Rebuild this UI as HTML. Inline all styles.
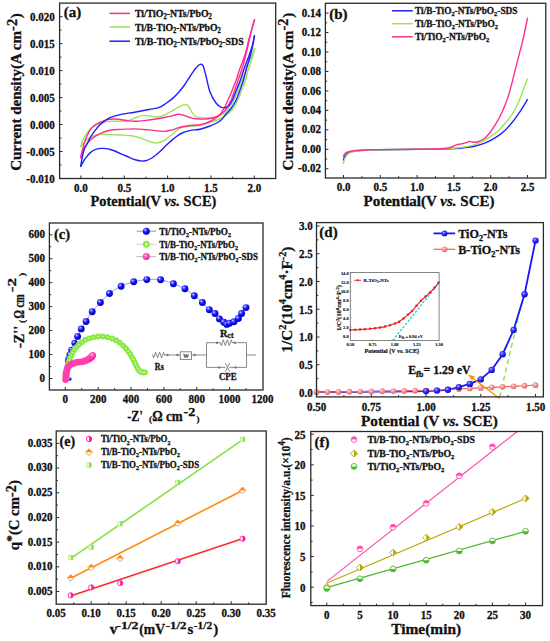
<!DOCTYPE html>
<html><head><meta charset="utf-8"><style>
html,body{margin:0;padding:0;background:#fff;}
svg{display:block;font-family:"Liberation Serif", serif;}
</style></head><body>
<svg width="550" height="641" viewBox="0 0 550 641">
<rect width="550" height="641" fill="#fff"/>
<defs>
<radialGradient id="gBlue" cx="0.35" cy="0.32" r="0.7"><stop offset="0" stop-color="#e8e8ff"/><stop offset="0.25" stop-color="#5050ff"/><stop offset="0.6" stop-color="#0a0af0"/><stop offset="1" stop-color="#0000b8"/></radialGradient>
<radialGradient id="gPink" cx="0.4" cy="0.35" r="0.7"><stop offset="0" stop-color="#ffe0f0"/><stop offset="0.3" stop-color="#ff60c0"/><stop offset="1" stop-color="#f01890"/></radialGradient>
<radialGradient id="gGreen" cx="0.5" cy="0.5" r="0.5"><stop offset="0" stop-color="#f4ffe8"/><stop offset="0.45" stop-color="#e8ffd8"/><stop offset="0.6" stop-color="#a8ec70"/><stop offset="1" stop-color="#88dd44"/></radialGradient>
<radialGradient id="gSalmon" cx="0.38" cy="0.35" r="0.7"><stop offset="0" stop-color="#fff0f0"/><stop offset="0.3" stop-color="#f8a0a0"/><stop offset="1" stop-color="#e86060"/></radialGradient>
<radialGradient id="gBlue2" cx="0.38" cy="0.35" r="0.7"><stop offset="0" stop-color="#d0d0ff"/><stop offset="0.3" stop-color="#4040ff"/><stop offset="1" stop-color="#0000c0"/></radialGradient>
</defs>
<line x1="59.6" y1="165" x2="61.4" y2="165" stroke="#2a2a2a" stroke-width="1"/>
<line x1="59.6" y1="151.51" x2="62.6" y2="151.51" stroke="#2a2a2a" stroke-width="1"/>
<line x1="59.6" y1="138.03" x2="61.4" y2="138.03" stroke="#2a2a2a" stroke-width="1"/>
<line x1="59.6" y1="124.55" x2="62.6" y2="124.55" stroke="#2a2a2a" stroke-width="1"/>
<line x1="59.6" y1="111.07" x2="61.4" y2="111.07" stroke="#2a2a2a" stroke-width="1"/>
<line x1="59.6" y1="97.58" x2="62.6" y2="97.58" stroke="#2a2a2a" stroke-width="1"/>
<line x1="59.6" y1="84.1" x2="61.4" y2="84.1" stroke="#2a2a2a" stroke-width="1"/>
<line x1="59.6" y1="70.62" x2="62.6" y2="70.62" stroke="#2a2a2a" stroke-width="1"/>
<line x1="59.6" y1="57.14" x2="61.4" y2="57.14" stroke="#2a2a2a" stroke-width="1"/>
<line x1="59.6" y1="43.66" x2="62.6" y2="43.66" stroke="#2a2a2a" stroke-width="1"/>
<line x1="59.6" y1="30.17" x2="61.4" y2="30.17" stroke="#2a2a2a" stroke-width="1"/>
<line x1="59.6" y1="16.69" x2="62.6" y2="16.69" stroke="#2a2a2a" stroke-width="1"/>
<line x1="80.9" y1="178.5" x2="80.9" y2="175.5" stroke="#2a2a2a" stroke-width="1"/>
<line x1="102.58" y1="178.5" x2="102.58" y2="176.7" stroke="#2a2a2a" stroke-width="1"/>
<line x1="124.25" y1="178.5" x2="124.25" y2="175.5" stroke="#2a2a2a" stroke-width="1"/>
<line x1="145.93" y1="178.5" x2="145.93" y2="176.7" stroke="#2a2a2a" stroke-width="1"/>
<line x1="167.6" y1="178.5" x2="167.6" y2="175.5" stroke="#2a2a2a" stroke-width="1"/>
<line x1="189.28" y1="178.5" x2="189.28" y2="176.7" stroke="#2a2a2a" stroke-width="1"/>
<line x1="210.95" y1="178.5" x2="210.95" y2="175.5" stroke="#2a2a2a" stroke-width="1"/>
<line x1="232.62" y1="178.5" x2="232.62" y2="176.7" stroke="#2a2a2a" stroke-width="1"/>
<line x1="254.3" y1="178.5" x2="254.3" y2="175.5" stroke="#2a2a2a" stroke-width="1"/>
<text x="54.7" y="182.78" font-size="11.88" text-anchor="end" font-weight="bold" fill="#111" stroke="#111" stroke-width="0.3" textLength="28.41" lengthAdjust="spacingAndGlyphs">-0.010</text>
<text x="54.7" y="155.81" font-size="11.88" text-anchor="end" font-weight="bold" fill="#111" stroke="#111" stroke-width="0.3" textLength="28.41" lengthAdjust="spacingAndGlyphs">-0.005</text>
<text x="54.7" y="128.85" font-size="11.88" text-anchor="end" font-weight="bold" fill="#111" stroke="#111" stroke-width="0.3" textLength="24.75" lengthAdjust="spacingAndGlyphs">0.000</text>
<text x="54.7" y="101.88" font-size="11.88" text-anchor="end" font-weight="bold" fill="#111" stroke="#111" stroke-width="0.3" textLength="24.75" lengthAdjust="spacingAndGlyphs">0.005</text>
<text x="54.7" y="74.92" font-size="11.88" text-anchor="end" font-weight="bold" fill="#111" stroke="#111" stroke-width="0.3" textLength="24.75" lengthAdjust="spacingAndGlyphs">0.010</text>
<text x="54.7" y="47.95" font-size="11.88" text-anchor="end" font-weight="bold" fill="#111" stroke="#111" stroke-width="0.3" textLength="24.75" lengthAdjust="spacingAndGlyphs">0.015</text>
<text x="54.7" y="20.99" font-size="11.88" text-anchor="end" font-weight="bold" fill="#111" stroke="#111" stroke-width="0.3" textLength="24.75" lengthAdjust="spacingAndGlyphs">0.020</text>
<text x="80.9" y="191.8" font-size="11.88" text-anchor="middle" font-weight="bold" fill="#111" stroke="#111" stroke-width="0.3" textLength="13.75" lengthAdjust="spacingAndGlyphs">0.0</text>
<text x="124.25" y="191.8" font-size="11.88" text-anchor="middle" font-weight="bold" fill="#111" stroke="#111" stroke-width="0.3" textLength="13.75" lengthAdjust="spacingAndGlyphs">0.5</text>
<text x="167.6" y="191.8" font-size="11.88" text-anchor="middle" font-weight="bold" fill="#111" stroke="#111" stroke-width="0.3" textLength="13.75" lengthAdjust="spacingAndGlyphs">1.0</text>
<text x="210.95" y="191.8" font-size="11.88" text-anchor="middle" font-weight="bold" fill="#111" stroke="#111" stroke-width="0.3" textLength="13.75" lengthAdjust="spacingAndGlyphs">1.5</text>
<text x="254.3" y="191.8" font-size="11.88" text-anchor="middle" font-weight="bold" fill="#111" stroke="#111" stroke-width="0.3" textLength="13.75" lengthAdjust="spacingAndGlyphs">2.0</text>
<path d="M80.7,146.5 C81.12,145.32 82.1,141.77 83.2,139.4 C84.3,137.03 85.78,134.32 87.3,132.3 C88.82,130.28 90.1,128.82 92.3,127.3 C94.5,125.78 97.55,124.18 100.5,123.2 C103.45,122.22 106.75,121.73 110,121.4 C113.25,121.07 116.88,121.35 120,121.2 C123.12,121.05 125.78,121.23 128.7,120.5 C131.62,119.77 134.83,117.65 137.5,116.8 C140.17,115.95 142.28,115.45 144.7,115.4 C147.12,115.35 149.33,116.32 152,116.5 C154.67,116.68 157.78,117.17 160.7,116.5 C163.62,115.83 166.58,114.02 169.5,112.5 C172.42,110.98 175.78,108.67 178.2,107.4 C180.62,106.13 182.43,105.27 184,104.9 C185.57,104.53 186.52,104.43 187.6,105.2 C188.68,105.97 189.52,107.93 190.5,109.5 C191.48,111.07 192.4,113.33 193.5,114.6 C194.6,115.87 195.02,116.53 197.1,117.1 C199.18,117.67 203.18,117.88 206,118 C208.82,118.12 211.67,118.13 214,117.8 C216.33,117.47 218.17,116.88 220,116 C221.83,115.12 223.42,114 225,112.5 C226.58,111 228,109.08 229.5,107 C231,104.92 232.58,102.83 234,100 C235.42,97.17 236.67,93.33 238,90 C239.33,86.67 240.7,83.17 242,80 C243.3,76.83 244.72,73.83 245.8,71 C246.88,68.17 247.55,65.42 248.5,63 C249.45,60.58 250.47,58.93 251.5,56.5 C252.53,54.07 254.17,49.75 254.7,48.4" stroke="#9be35a" stroke-width="1.4" fill="none" stroke-linejoin="round" stroke-linecap="round"/>
<path d="M254.7,48.4 C254.33,49.83 253.37,54.07 252.5,57 C251.63,59.93 250.33,63.5 249.5,66 C248.67,68.5 248.15,69.67 247.5,72 C246.85,74.33 246.55,77 245.6,80 C244.65,83 243.07,86.67 241.8,90 C240.53,93.33 239.47,96.92 238,100 C236.53,103.08 234.67,106.2 233,108.5 C231.33,110.8 230.17,112.05 228,113.8 C225.83,115.55 223,117.57 220,119 C217,120.43 213.33,121.32 210,122.4 C206.67,123.48 203.37,124.85 200,125.5 C196.63,126.15 192.97,125.93 189.8,126.3 C186.63,126.67 183.9,126.37 181,127.7 C178.1,129.03 175.07,132.23 172.4,134.3 C169.73,136.37 167.43,138.7 165,140.1 C162.57,141.5 159.97,142.33 157.8,142.7 C155.63,143.07 154.67,142.98 152,142.3 C149.33,141.62 145.2,139.7 141.8,138.6 C138.4,137.5 135.23,136.3 131.6,135.7 C127.97,135.1 124.68,135.22 120,135 C115.32,134.78 107.43,134.42 103.5,134.4 C99.57,134.38 98.6,134.4 96.4,134.9 C94.2,135.4 92.17,136.3 90.3,137.4 C88.43,138.5 86.8,139.98 85.2,141.5 C83.6,143.02 81.45,145.67 80.7,146.5" stroke="#9be35a" stroke-width="1.4" fill="none" stroke-linejoin="round" stroke-linecap="round"/>
<path d="M80.7,157.7 C80.95,156.52 81.45,153.47 82.2,150.6 C82.95,147.73 84.02,143.72 85.2,140.5 C86.38,137.28 87.93,133.68 89.3,131.3 C90.67,128.92 91.53,127.72 93.4,126.2 C95.27,124.68 98.07,123.32 100.5,122.2 C102.93,121.08 105.42,120.03 108,119.5 C110.58,118.97 112.55,118.77 116,119 C119.45,119.23 125.12,120.53 128.7,120.9 C132.28,121.27 134.12,121.35 137.5,121.2 C140.88,121.05 145.13,120.48 149,120 C152.87,119.52 157.05,118.95 160.7,118.3 C164.35,117.65 167.98,116.77 170.9,116.1 C173.82,115.43 176.02,114.42 178.2,114.3 C180.38,114.18 182.07,114.87 184,115.4 C185.93,115.93 187.87,116.95 189.8,117.5 C191.73,118.05 192.9,118.45 195.6,118.7 C198.3,118.95 202.93,119.2 206,119 C209.07,118.8 211.67,118.25 214,117.5 C216.33,116.75 218,115.83 220,114.5 C222,113.17 224.15,111.92 226,109.5 C227.85,107.08 229.63,103.25 231.1,100 C232.57,96.75 233.62,93.33 234.8,90 C235.98,86.67 236.95,83.67 238.2,80 C239.45,76.33 241.03,72.17 242.3,68 C243.57,63.83 244.52,60.17 245.8,55 C247.08,49.83 248.55,42.88 250,37 C251.45,31.12 253.75,22.58 254.5,19.7" stroke="#ff2d8f" stroke-width="1.4" fill="none" stroke-linejoin="round" stroke-linecap="round"/>
<path d="M254.5,19.7 C253.67,22.58 251.08,31.12 249.5,37 C247.92,42.88 246.57,49.83 245,55 C243.43,60.17 241.57,63.83 240.1,68 C238.63,72.17 237.5,76.33 236.2,80 C234.9,83.67 233.58,86.83 232.3,90 C231.02,93.17 229.88,95.92 228.5,99 C227.12,102.08 225.75,105.58 224,108.5 C222.25,111.42 220.33,114.33 218,116.5 C215.67,118.67 213,120.12 210,121.5 C207,122.88 203.37,124.13 200,124.8 C196.63,125.47 192.97,125.13 189.8,125.5 C186.63,125.87 183.9,126.27 181,127 C178.1,127.73 175.3,129.17 172.4,129.9 C169.5,130.63 167.5,131.4 163.6,131.4 C159.7,131.4 153.85,130.32 149,129.9 C144.15,129.48 139.33,128.98 134.5,128.9 C129.67,128.82 124.08,129.17 120,129.4 C115.92,129.63 113.25,129.63 110,130.3 C106.75,130.97 103.45,132.05 100.5,133.4 C97.55,134.75 94.5,136.72 92.3,138.4 C90.1,140.08 88.82,141.63 87.3,143.5 C85.78,145.37 84.3,147.23 83.2,149.6 C82.1,151.97 81.12,156.35 80.7,157.7" stroke="#ff2d8f" stroke-width="1.4" fill="none" stroke-linejoin="round" stroke-linecap="round"/>
<path d="M80.7,166.3 C80.95,164.87 81.62,160.48 82.2,157.7 C82.78,154.92 83.35,151.97 84.2,149.6 C85.05,147.23 86.28,145.53 87.3,143.5 C88.32,141.47 89.12,139.43 90.3,137.4 C91.48,135.37 92.88,133.33 94.4,131.3 C95.92,129.27 97.72,126.88 99.4,125.2 C101.08,123.52 102.73,122.47 104.5,121.2 C106.27,119.93 107.42,118.7 110,117.6 C112.58,116.5 115.92,115.5 120,114.6 C124.08,113.7 129.65,113.05 134.5,112.2 C139.35,111.35 144.97,110.3 149.1,109.5 C153.23,108.7 156.4,108.48 159.3,107.4 C162.2,106.32 164.32,104.47 166.5,103 C168.68,101.53 170.4,100.35 172.4,98.6 C174.4,96.85 176.48,94.77 178.5,92.5 C180.52,90.23 182.58,87.67 184.5,85 C186.42,82.33 188.17,79.25 190,76.5 C191.83,73.75 193.83,70.52 195.5,68.5 C197.17,66.48 198.75,64.88 200,64.4 C201.25,63.92 202,63.67 203,65.6 C204,67.53 204.83,71.6 206,76 C207.17,80.4 208.33,87.5 210,92 C211.67,96.5 214.17,100.5 216,103 C217.83,105.5 219.5,106.2 221,107 C222.5,107.8 223.67,108.05 225,107.8 C226.33,107.55 227.75,106.8 229,105.5 C230.25,104.2 231.25,102.58 232.5,100 C233.75,97.42 235.18,93.33 236.5,90 C237.82,86.67 239.08,83.67 240.4,80 C241.72,76.33 242.92,72.17 244.4,68 C245.88,63.83 247.95,58.83 249.3,55 C250.65,51.17 251.63,48.23 252.5,45 C253.37,41.77 254.17,37.17 254.5,35.6" stroke="#1f1fff" stroke-width="1.4" fill="none" stroke-linejoin="round" stroke-linecap="round"/>
<path d="M254.5,35.6 C254.22,37.17 253.45,41.77 252.8,45 C252.15,48.23 251.63,51.17 250.6,55 C249.57,58.83 247.78,63.83 246.6,68 C245.42,72.17 244.6,76.33 243.5,80 C242.4,83.67 241.22,86.67 240,90 C238.78,93.33 237.7,96.92 236.2,100 C234.7,103.08 232.7,106.17 231,108.5 C229.3,110.83 227.83,111.92 226,114 C224.17,116.08 222.67,119 220,121 C217.33,123 213.33,124.63 210,126 C206.67,127.37 203.37,128.43 200,129.2 C196.63,129.97 192.97,129.88 189.8,130.6 C186.63,131.32 183.67,132.17 181,133.5 C178.33,134.83 176.22,136.68 173.8,138.6 C171.38,140.52 168.8,142.85 166.5,145 C164.2,147.15 162.42,149.33 160,151.5 C157.58,153.67 154.67,156.42 152,158 C149.33,159.58 146.67,160.67 144,161 C141.33,161.33 139,160.83 136,160 C133,159.17 130,157.67 126,156 C122,154.33 115.75,151.27 112,150 C108.25,148.73 106.1,148.55 103.5,148.4 C100.9,148.25 98.6,148.4 96.4,149.1 C94.2,149.8 92.17,151 90.3,152.6 C88.43,154.2 86.8,156.42 85.2,158.7 C83.6,160.98 81.45,165.03 80.7,166.3" stroke="#1f1fff" stroke-width="1.4" fill="none" stroke-linejoin="round" stroke-linecap="round"/>
<rect x="59.6" y="3.1" width="216.1" height="175.4" fill="none" stroke="#2a2a2a" stroke-width="1.3"/>
<line x1="109.5" y1="13.4" x2="130" y2="13.4" stroke="#ff2d8f" stroke-width="1.5"/>
<text x="134.9" y="17" font-size="10.6" text-anchor="start" font-weight="bold" fill="#111" stroke="#111" stroke-width="0.3" textLength="77" lengthAdjust="spacingAndGlyphs">Ti/TiO<tspan font-size="7.2" dy="2.3">2</tspan><tspan dy="-2.3">-NTs/PbO</tspan><tspan font-size="7.2" dy="2.3">2</tspan><tspan dy="-2.3"></tspan></text>
<line x1="109.5" y1="27" x2="130" y2="27" stroke="#9be35a" stroke-width="1.5"/>
<text x="134.9" y="30.6" font-size="10.6" text-anchor="start" font-weight="bold" fill="#111" stroke="#111" stroke-width="0.3" textLength="86" lengthAdjust="spacingAndGlyphs">Ti/B-TiO<tspan font-size="7.2" dy="2.3">2</tspan><tspan dy="-2.3">-NTs/PbO</tspan><tspan font-size="7.2" dy="2.3">2</tspan><tspan dy="-2.3"></tspan></text>
<line x1="109.5" y1="41.2" x2="130" y2="41.2" stroke="#1f1fff" stroke-width="1.5"/>
<text x="134.9" y="44.8" font-size="10.6" text-anchor="start" font-weight="bold" fill="#111" stroke="#111" stroke-width="0.3" textLength="108.8" lengthAdjust="spacingAndGlyphs">Ti/B-TiO<tspan font-size="7.2" dy="2.3">2</tspan><tspan dy="-2.3">-NTs/PbO</tspan><tspan font-size="7.2" dy="2.3">2</tspan><tspan dy="-2.3">-SDS</tspan></text>
<text x="63.8" y="16.8" font-size="15" text-anchor="start" font-weight="bold" fill="#111" stroke="#111" stroke-width="0.3">(a)</text>
<text x="90.4" y="205.8" font-size="14" text-anchor="start" font-weight="bold" fill="#111" stroke="#111" stroke-width="0.3" textLength="126" lengthAdjust="spacingAndGlyphs">Potential(V <tspan font-style="italic">vs.</tspan> SCE)</text>
<g transform="translate(20.9 170.8) rotate(-90)">
<text x="0" y="0" font-size="15" font-weight="bold" fill="#111" stroke="#111" stroke-width="0.3">Current density(A cm</text>
<text x="139.9" y="-4.4" font-size="14.5" font-weight="bold" fill="#111" stroke="#111" stroke-width="0.3">-2</text>
<text x="152.6" y="0" font-size="15" font-weight="bold" fill="#111" stroke="#111" stroke-width="0.3">)</text>
</g>
<line x1="325.4" y1="168.76" x2="328.4" y2="168.76" stroke="#2a2a2a" stroke-width="1"/>
<line x1="325.4" y1="159.03" x2="327.2" y2="159.03" stroke="#2a2a2a" stroke-width="1"/>
<line x1="325.4" y1="149.3" x2="328.4" y2="149.3" stroke="#2a2a2a" stroke-width="1"/>
<line x1="325.4" y1="139.57" x2="327.2" y2="139.57" stroke="#2a2a2a" stroke-width="1"/>
<line x1="325.4" y1="129.84" x2="328.4" y2="129.84" stroke="#2a2a2a" stroke-width="1"/>
<line x1="325.4" y1="120.11" x2="327.2" y2="120.11" stroke="#2a2a2a" stroke-width="1"/>
<line x1="325.4" y1="110.38" x2="328.4" y2="110.38" stroke="#2a2a2a" stroke-width="1"/>
<line x1="325.4" y1="100.65" x2="327.2" y2="100.65" stroke="#2a2a2a" stroke-width="1"/>
<line x1="325.4" y1="90.92" x2="328.4" y2="90.92" stroke="#2a2a2a" stroke-width="1"/>
<line x1="325.4" y1="81.19" x2="327.2" y2="81.19" stroke="#2a2a2a" stroke-width="1"/>
<line x1="325.4" y1="71.46" x2="328.4" y2="71.46" stroke="#2a2a2a" stroke-width="1"/>
<line x1="325.4" y1="61.73" x2="327.2" y2="61.73" stroke="#2a2a2a" stroke-width="1"/>
<line x1="325.4" y1="52" x2="328.4" y2="52" stroke="#2a2a2a" stroke-width="1"/>
<line x1="325.4" y1="42.27" x2="327.2" y2="42.27" stroke="#2a2a2a" stroke-width="1"/>
<line x1="325.4" y1="32.54" x2="328.4" y2="32.54" stroke="#2a2a2a" stroke-width="1"/>
<line x1="325.4" y1="22.81" x2="327.2" y2="22.81" stroke="#2a2a2a" stroke-width="1"/>
<line x1="325.4" y1="13.08" x2="328.4" y2="13.08" stroke="#2a2a2a" stroke-width="1"/>
<line x1="343.5" y1="178" x2="343.5" y2="175" stroke="#2a2a2a" stroke-width="1"/>
<line x1="361.9" y1="178" x2="361.9" y2="176.2" stroke="#2a2a2a" stroke-width="1"/>
<line x1="380.3" y1="178" x2="380.3" y2="175" stroke="#2a2a2a" stroke-width="1"/>
<line x1="398.7" y1="178" x2="398.7" y2="176.2" stroke="#2a2a2a" stroke-width="1"/>
<line x1="417.1" y1="178" x2="417.1" y2="175" stroke="#2a2a2a" stroke-width="1"/>
<line x1="435.5" y1="178" x2="435.5" y2="176.2" stroke="#2a2a2a" stroke-width="1"/>
<line x1="453.9" y1="178" x2="453.9" y2="175" stroke="#2a2a2a" stroke-width="1"/>
<line x1="472.3" y1="178" x2="472.3" y2="176.2" stroke="#2a2a2a" stroke-width="1"/>
<line x1="490.7" y1="178" x2="490.7" y2="175" stroke="#2a2a2a" stroke-width="1"/>
<line x1="509.1" y1="178" x2="509.1" y2="176.2" stroke="#2a2a2a" stroke-width="1"/>
<line x1="527.5" y1="178" x2="527.5" y2="175" stroke="#2a2a2a" stroke-width="1"/>
<text x="320.9" y="172.36" font-size="11.88" text-anchor="end" font-weight="bold" fill="#111" stroke="#111" stroke-width="0.3" textLength="22.91" lengthAdjust="spacingAndGlyphs">-0.02</text>
<text x="320.9" y="152.9" font-size="11.88" text-anchor="end" font-weight="bold" fill="#111" stroke="#111" stroke-width="0.3" textLength="19.25" lengthAdjust="spacingAndGlyphs">0.00</text>
<text x="320.9" y="133.44" font-size="11.88" text-anchor="end" font-weight="bold" fill="#111" stroke="#111" stroke-width="0.3" textLength="19.25" lengthAdjust="spacingAndGlyphs">0.02</text>
<text x="320.9" y="113.98" font-size="11.88" text-anchor="end" font-weight="bold" fill="#111" stroke="#111" stroke-width="0.3" textLength="19.25" lengthAdjust="spacingAndGlyphs">0.04</text>
<text x="320.9" y="94.52" font-size="11.88" text-anchor="end" font-weight="bold" fill="#111" stroke="#111" stroke-width="0.3" textLength="19.25" lengthAdjust="spacingAndGlyphs">0.06</text>
<text x="320.9" y="75.06" font-size="11.88" text-anchor="end" font-weight="bold" fill="#111" stroke="#111" stroke-width="0.3" textLength="19.25" lengthAdjust="spacingAndGlyphs">0.08</text>
<text x="320.9" y="55.6" font-size="11.88" text-anchor="end" font-weight="bold" fill="#111" stroke="#111" stroke-width="0.3" textLength="19.25" lengthAdjust="spacingAndGlyphs">0.10</text>
<text x="320.9" y="36.14" font-size="11.88" text-anchor="end" font-weight="bold" fill="#111" stroke="#111" stroke-width="0.3" textLength="19.25" lengthAdjust="spacingAndGlyphs">0.12</text>
<text x="320.9" y="16.68" font-size="11.88" text-anchor="end" font-weight="bold" fill="#111" stroke="#111" stroke-width="0.3" textLength="19.25" lengthAdjust="spacingAndGlyphs">0.14</text>
<text x="343.5" y="191.3" font-size="11.88" text-anchor="middle" font-weight="bold" fill="#111" stroke="#111" stroke-width="0.3" textLength="13.75" lengthAdjust="spacingAndGlyphs">0.0</text>
<text x="380.3" y="191.3" font-size="11.88" text-anchor="middle" font-weight="bold" fill="#111" stroke="#111" stroke-width="0.3" textLength="13.75" lengthAdjust="spacingAndGlyphs">0.5</text>
<text x="417.1" y="191.3" font-size="11.88" text-anchor="middle" font-weight="bold" fill="#111" stroke="#111" stroke-width="0.3" textLength="13.75" lengthAdjust="spacingAndGlyphs">1.0</text>
<text x="453.9" y="191.3" font-size="11.88" text-anchor="middle" font-weight="bold" fill="#111" stroke="#111" stroke-width="0.3" textLength="13.75" lengthAdjust="spacingAndGlyphs">1.5</text>
<text x="490.7" y="191.3" font-size="11.88" text-anchor="middle" font-weight="bold" fill="#111" stroke="#111" stroke-width="0.3" textLength="13.75" lengthAdjust="spacingAndGlyphs">2.0</text>
<text x="527.5" y="191.3" font-size="11.88" text-anchor="middle" font-weight="bold" fill="#111" stroke="#111" stroke-width="0.3" textLength="13.75" lengthAdjust="spacingAndGlyphs">2.5</text>
<path d="M343.4,160 C343.67,159.33 344.23,157.17 345,156 C345.77,154.83 346.83,153.75 348,153 C349.17,152.25 350,151.92 352,151.5 C354,151.08 355.33,150.8 360,150.5 C364.67,150.2 370,149.9 380,149.7 C390,149.5 407.27,149.5 420,149.3 C432.73,149.1 448.9,148.78 456.4,148.5 C463.9,148.22 462.73,147.85 465,147.6 C467.27,147.35 468.47,147.23 470,147 C471.53,146.77 472.33,146.65 474.2,146.2 C476.07,145.75 478.62,145.2 481.2,144.3 C483.78,143.4 486.88,142.22 489.7,140.8 C492.52,139.38 495.53,137.57 498.1,135.8 C500.67,134.03 502.77,132.42 505.1,130.2 C507.43,127.98 509.98,125.07 512.1,122.5 C514.22,119.93 515.92,117.5 517.8,114.8 C519.68,112.1 521.82,108.83 523.4,106.3 C524.98,103.77 526.65,100.72 527.3,99.6" stroke="#1f1fff" stroke-width="1.4" fill="none" stroke-linejoin="round" stroke-linecap="round"/>
<path d="M343.4,163.3 C343.67,162.42 344.23,159.55 345,158 C345.77,156.45 346.83,155 348,154 C349.17,153 350,152.57 352,152 C354,151.43 355.33,150.98 360,150.6 C364.67,150.22 370,149.92 380,149.7 C390,149.48 408.63,149.5 420,149.3 C431.37,149.1 441.87,148.75 448.2,148.5 C454.53,148.25 455.03,148.08 458,147.8 C460.97,147.52 463.3,147.3 466,146.8 C468.7,146.3 471.67,145.6 474.2,144.8 C476.73,144 478.62,143.27 481.2,142 C483.78,140.73 486.88,139.05 489.7,137.2 C492.52,135.35 495.3,133.47 498.1,130.9 C500.9,128.33 503.93,124.95 506.5,121.8 C509.07,118.65 511.38,115.52 513.5,112 C515.62,108.48 517.55,104.45 519.2,100.7 C520.85,96.95 522.05,93.12 523.4,89.5 C524.75,85.88 526.65,80.75 527.3,79" stroke="#9be35a" stroke-width="1.4" fill="none" stroke-linejoin="round" stroke-linecap="round"/>
<path d="M343.4,156.2 C343.67,155.75 344.23,154.2 345,153.5 C345.77,152.8 346.83,152.42 348,152 C349.17,151.58 350,151.28 352,151 C354,150.72 355.33,150.53 360,150.3 C364.67,150.07 370,149.78 380,149.6 C390,149.42 410,149.33 420,149.2 C430,149.07 435.3,149 440,148.8 C444.7,148.6 446.02,148.42 448.2,148 C450.38,147.58 451.73,146.82 453.1,146.3 C454.47,145.78 455.03,145.3 456.4,144.9 C457.77,144.5 459.67,144.27 461.3,143.9 C462.93,143.53 464.83,143.12 466.2,142.7 C467.57,142.28 468.55,141.53 469.5,141.4 C470.45,141.27 470.95,141.77 471.9,141.9 C472.85,142.03 474.12,142.27 475.2,142.2 C476.28,142.13 476.93,142.08 478.4,141.5 C479.87,140.92 482.12,140.12 484,138.7 C485.88,137.28 487.82,135.35 489.7,133 C491.58,130.65 493.43,127.63 495.3,124.6 C497.17,121.57 499.27,118.08 500.9,114.8 C502.53,111.52 503.82,108.18 505.1,104.9 C506.38,101.62 507.43,98.83 508.6,95.1 C509.77,91.37 511.05,86.48 512.1,82.5 C513.15,78.52 513.75,75.75 514.9,71.2 C516.05,66.65 517.58,60.77 519,55.2 C520.42,49.63 521.98,43.98 523.4,37.8 C524.82,31.62 526.82,21.38 527.5,18.1" stroke="#ff2d8f" stroke-width="1.4" fill="none" stroke-linejoin="round" stroke-linecap="round"/>
<rect x="325.4" y="3.3" width="220.4" height="174.7" fill="none" stroke="#2a2a2a" stroke-width="1.3"/>
<line x1="391.9" y1="10.8" x2="412.7" y2="10.8" stroke="#1f1fff" stroke-width="1.5"/>
<text x="415" y="14" font-size="9.8" text-anchor="start" font-weight="bold" fill="#111" stroke="#111" stroke-width="0.29" textLength="102.5" lengthAdjust="spacingAndGlyphs">Ti/B-TiO<tspan font-size="6.7" dy="2.2">2</tspan><tspan dy="-2.2">-NTs/PbO</tspan><tspan font-size="6.7" dy="2.2">2</tspan><tspan dy="-2.2">-SDS</tspan></text>
<line x1="391.9" y1="23.7" x2="412.7" y2="23.7" stroke="#9be35a" stroke-width="1.5"/>
<text x="415" y="26.9" font-size="9.8" text-anchor="start" font-weight="bold" fill="#111" stroke="#111" stroke-width="0.29" textLength="82.9" lengthAdjust="spacingAndGlyphs">Ti/B-TiO<tspan font-size="6.7" dy="2.2">2</tspan><tspan dy="-2.2">-NTs/PbO</tspan><tspan font-size="6.7" dy="2.2">2</tspan><tspan dy="-2.2"></tspan></text>
<line x1="391.9" y1="36.8" x2="412.7" y2="36.8" stroke="#ff2d8f" stroke-width="1.5"/>
<text x="415" y="40" font-size="9.8" text-anchor="start" font-weight="bold" fill="#111" stroke="#111" stroke-width="0.29" textLength="74.3" lengthAdjust="spacingAndGlyphs">Ti/TiO<tspan font-size="6.7" dy="2.2">2</tspan><tspan dy="-2.2">-NTs/PbO</tspan><tspan font-size="6.7" dy="2.2">2</tspan><tspan dy="-2.2"></tspan></text>
<text x="329.2" y="18.8" font-size="15" text-anchor="start" font-weight="bold" fill="#111" stroke="#111" stroke-width="0.3">(b)</text>
<text x="363.5" y="205.6" font-size="14" text-anchor="start" font-weight="bold" fill="#111" stroke="#111" stroke-width="0.3" textLength="131" lengthAdjust="spacingAndGlyphs">Potential(V <tspan font-style="italic">vs.</tspan> SCE)</text>
<g transform="translate(292.6 170.4) rotate(-90)">
<text x="0" y="0" font-size="15" font-weight="bold" fill="#111" stroke="#111" stroke-width="0.3">Current density(A cm</text>
<text x="139.9" y="-4.4" font-size="14.5" font-weight="bold" fill="#111" stroke="#111" stroke-width="0.3">-2</text>
<text x="152.6" y="0" font-size="15" font-weight="bold" fill="#111" stroke="#111" stroke-width="0.3">)</text>
</g>
<line x1="49.4" y1="378.5" x2="52.4" y2="378.5" stroke="#2a2a2a" stroke-width="1"/>
<line x1="49.4" y1="366.52" x2="51.2" y2="366.52" stroke="#2a2a2a" stroke-width="1"/>
<line x1="49.4" y1="354.55" x2="52.4" y2="354.55" stroke="#2a2a2a" stroke-width="1"/>
<line x1="49.4" y1="342.57" x2="51.2" y2="342.57" stroke="#2a2a2a" stroke-width="1"/>
<line x1="49.4" y1="330.6" x2="52.4" y2="330.6" stroke="#2a2a2a" stroke-width="1"/>
<line x1="49.4" y1="318.62" x2="51.2" y2="318.62" stroke="#2a2a2a" stroke-width="1"/>
<line x1="49.4" y1="306.65" x2="52.4" y2="306.65" stroke="#2a2a2a" stroke-width="1"/>
<line x1="49.4" y1="294.68" x2="51.2" y2="294.68" stroke="#2a2a2a" stroke-width="1"/>
<line x1="49.4" y1="282.7" x2="52.4" y2="282.7" stroke="#2a2a2a" stroke-width="1"/>
<line x1="49.4" y1="270.73" x2="51.2" y2="270.73" stroke="#2a2a2a" stroke-width="1"/>
<line x1="49.4" y1="258.75" x2="52.4" y2="258.75" stroke="#2a2a2a" stroke-width="1"/>
<line x1="49.4" y1="246.78" x2="51.2" y2="246.78" stroke="#2a2a2a" stroke-width="1"/>
<line x1="49.4" y1="234.8" x2="52.4" y2="234.8" stroke="#2a2a2a" stroke-width="1"/>
<line x1="65.3" y1="390" x2="65.3" y2="387" stroke="#2a2a2a" stroke-width="1"/>
<line x1="81.73" y1="390" x2="81.73" y2="388.2" stroke="#2a2a2a" stroke-width="1"/>
<line x1="98.16" y1="390" x2="98.16" y2="387" stroke="#2a2a2a" stroke-width="1"/>
<line x1="114.59" y1="390" x2="114.59" y2="388.2" stroke="#2a2a2a" stroke-width="1"/>
<line x1="131.02" y1="390" x2="131.02" y2="387" stroke="#2a2a2a" stroke-width="1"/>
<line x1="147.45" y1="390" x2="147.45" y2="388.2" stroke="#2a2a2a" stroke-width="1"/>
<line x1="163.88" y1="390" x2="163.88" y2="387" stroke="#2a2a2a" stroke-width="1"/>
<line x1="180.31" y1="390" x2="180.31" y2="388.2" stroke="#2a2a2a" stroke-width="1"/>
<line x1="196.74" y1="390" x2="196.74" y2="387" stroke="#2a2a2a" stroke-width="1"/>
<line x1="213.17" y1="390" x2="213.17" y2="388.2" stroke="#2a2a2a" stroke-width="1"/>
<line x1="229.6" y1="390" x2="229.6" y2="387" stroke="#2a2a2a" stroke-width="1"/>
<line x1="246.03" y1="390" x2="246.03" y2="388.2" stroke="#2a2a2a" stroke-width="1"/>
<text x="45.1" y="382.1" font-size="11.88" text-anchor="end" font-weight="bold" fill="#111" stroke="#111" stroke-width="0.3" textLength="5.5" lengthAdjust="spacingAndGlyphs">0</text>
<text x="45.1" y="358.15" font-size="11.88" text-anchor="end" font-weight="bold" fill="#111" stroke="#111" stroke-width="0.3" textLength="16.5" lengthAdjust="spacingAndGlyphs">100</text>
<text x="45.1" y="334.2" font-size="11.88" text-anchor="end" font-weight="bold" fill="#111" stroke="#111" stroke-width="0.3" textLength="16.5" lengthAdjust="spacingAndGlyphs">200</text>
<text x="45.1" y="310.25" font-size="11.88" text-anchor="end" font-weight="bold" fill="#111" stroke="#111" stroke-width="0.3" textLength="16.5" lengthAdjust="spacingAndGlyphs">300</text>
<text x="45.1" y="286.3" font-size="11.88" text-anchor="end" font-weight="bold" fill="#111" stroke="#111" stroke-width="0.3" textLength="16.5" lengthAdjust="spacingAndGlyphs">400</text>
<text x="45.1" y="262.35" font-size="11.88" text-anchor="end" font-weight="bold" fill="#111" stroke="#111" stroke-width="0.3" textLength="16.5" lengthAdjust="spacingAndGlyphs">500</text>
<text x="45.1" y="238.4" font-size="11.88" text-anchor="end" font-weight="bold" fill="#111" stroke="#111" stroke-width="0.3" textLength="16.5" lengthAdjust="spacingAndGlyphs">600</text>
<text x="65.3" y="402.6" font-size="11.88" text-anchor="middle" font-weight="bold" fill="#111" stroke="#111" stroke-width="0.3" textLength="5.5" lengthAdjust="spacingAndGlyphs">0</text>
<text x="98.16" y="402.6" font-size="11.88" text-anchor="middle" font-weight="bold" fill="#111" stroke="#111" stroke-width="0.3" textLength="16.5" lengthAdjust="spacingAndGlyphs">200</text>
<text x="131.02" y="402.6" font-size="11.88" text-anchor="middle" font-weight="bold" fill="#111" stroke="#111" stroke-width="0.3" textLength="16.5" lengthAdjust="spacingAndGlyphs">400</text>
<text x="163.88" y="402.6" font-size="11.88" text-anchor="middle" font-weight="bold" fill="#111" stroke="#111" stroke-width="0.3" textLength="16.5" lengthAdjust="spacingAndGlyphs">600</text>
<text x="196.74" y="402.6" font-size="11.88" text-anchor="middle" font-weight="bold" fill="#111" stroke="#111" stroke-width="0.3" textLength="16.5" lengthAdjust="spacingAndGlyphs">800</text>
<text x="229.6" y="402.6" font-size="11.88" text-anchor="middle" font-weight="bold" fill="#111" stroke="#111" stroke-width="0.3" textLength="22" lengthAdjust="spacingAndGlyphs">1000</text>
<text x="262.46" y="402.6" font-size="11.88" text-anchor="middle" font-weight="bold" fill="#111" stroke="#111" stroke-width="0.3" textLength="22" lengthAdjust="spacingAndGlyphs">1200</text>
<path d="M68,358.3 C68.22,357.63 68.77,355.73 69.3,354.3 C69.83,352.87 70.32,351.58 71.2,349.7 C72.08,347.82 73.53,345.22 74.6,343 C75.67,340.78 76.5,338.75 77.6,336.4 C78.7,334.05 79.78,331.38 81.2,328.9 C82.62,326.42 84.27,324.37 86.1,321.5 C87.93,318.63 89.82,314.87 92.2,311.7 C94.58,308.53 97.52,305.53 100.4,302.5 C103.28,299.47 106.05,296.22 109.5,293.5 C112.95,290.78 117.07,288.15 121.1,286.2 C125.13,284.25 129.42,282.9 133.7,281.8 C137.98,280.7 142.32,279.95 146.8,279.6 C151.28,279.25 156.17,279 160.6,279.7 C165.03,280.4 169.35,282.28 173.4,283.8 C177.45,285.32 181.42,286.8 184.9,288.8 C188.38,290.8 191.38,293.52 194.3,295.8 C197.22,298.08 199.9,300.18 202.4,302.5 C204.9,304.82 207.2,307.87 209.3,309.7 C211.4,311.53 213.32,311.97 215,313.5 C216.68,315.03 217.93,317.45 219.4,318.9 C220.87,320.35 222.57,321.28 223.8,322.2 C225.03,323.12 225.83,324.22 226.8,324.4 C227.77,324.58 228.4,323.73 229.6,323.3 C230.8,322.87 232.53,322.6 234,321.8 C235.47,321 237.13,319.88 238.4,318.5 C239.67,317.12 240.33,315.32 241.6,313.5 C242.87,311.68 245.27,308.58 246,307.6" stroke="#7c7ce8" stroke-width="0.8" fill="none" stroke-linejoin="round" stroke-linecap="round"/>
<circle cx="69.9" cy="379" r="1.7" fill="url(#gBlue)" stroke="none" stroke-width="0"/>
<circle cx="67.8" cy="372" r="1.92" fill="url(#gBlue)" stroke="none" stroke-width="0"/>
<circle cx="66.8" cy="366" r="2.14" fill="url(#gBlue)" stroke="none" stroke-width="0"/>
<circle cx="67.2" cy="361" r="2.36" fill="url(#gBlue)" stroke="none" stroke-width="0"/>
<circle cx="68" cy="358.3" r="2.58" fill="url(#gBlue)" stroke="none" stroke-width="0"/>
<circle cx="69.3" cy="354.3" r="2.8" fill="url(#gBlue)" stroke="none" stroke-width="0"/>
<circle cx="71.2" cy="349.7" r="3.02" fill="url(#gBlue)" stroke="none" stroke-width="0"/>
<circle cx="74.6" cy="343" r="3.24" fill="url(#gBlue)" stroke="none" stroke-width="0"/>
<circle cx="77.6" cy="336.4" r="3.45" fill="url(#gBlue)" stroke="none" stroke-width="0"/>
<circle cx="81.2" cy="328.9" r="3.45" fill="url(#gBlue)" stroke="none" stroke-width="0"/>
<circle cx="86.1" cy="321.5" r="3.45" fill="url(#gBlue)" stroke="none" stroke-width="0"/>
<circle cx="92.2" cy="311.7" r="3.45" fill="url(#gBlue)" stroke="none" stroke-width="0"/>
<circle cx="100.4" cy="302.5" r="3.45" fill="url(#gBlue)" stroke="none" stroke-width="0"/>
<circle cx="109.5" cy="293.5" r="3.45" fill="url(#gBlue)" stroke="none" stroke-width="0"/>
<circle cx="121.1" cy="286.2" r="3.45" fill="url(#gBlue)" stroke="none" stroke-width="0"/>
<circle cx="133.7" cy="281.8" r="3.45" fill="url(#gBlue)" stroke="none" stroke-width="0"/>
<circle cx="146.8" cy="279.6" r="3.45" fill="url(#gBlue)" stroke="none" stroke-width="0"/>
<circle cx="160.6" cy="279.7" r="3.45" fill="url(#gBlue)" stroke="none" stroke-width="0"/>
<circle cx="173.4" cy="283.8" r="3.45" fill="url(#gBlue)" stroke="none" stroke-width="0"/>
<circle cx="184.9" cy="288.8" r="3.45" fill="url(#gBlue)" stroke="none" stroke-width="0"/>
<circle cx="194.3" cy="295.8" r="3.45" fill="url(#gBlue)" stroke="none" stroke-width="0"/>
<circle cx="202.4" cy="302.5" r="3.45" fill="url(#gBlue)" stroke="none" stroke-width="0"/>
<circle cx="209.3" cy="309.7" r="3.45" fill="url(#gBlue)" stroke="none" stroke-width="0"/>
<circle cx="215" cy="313.5" r="3.45" fill="url(#gBlue)" stroke="none" stroke-width="0"/>
<circle cx="219.4" cy="318.9" r="3.45" fill="url(#gBlue)" stroke="none" stroke-width="0"/>
<circle cx="223.8" cy="322.2" r="3.45" fill="url(#gBlue)" stroke="none" stroke-width="0"/>
<circle cx="226.8" cy="324.4" r="3.45" fill="url(#gBlue)" stroke="none" stroke-width="0"/>
<circle cx="229.6" cy="323.3" r="3.45" fill="url(#gBlue)" stroke="none" stroke-width="0"/>
<circle cx="234" cy="321.8" r="3.45" fill="url(#gBlue)" stroke="none" stroke-width="0"/>
<circle cx="238.4" cy="318.5" r="3.45" fill="url(#gBlue)" stroke="none" stroke-width="0"/>
<circle cx="241.6" cy="313.5" r="3.45" fill="url(#gBlue)" stroke="none" stroke-width="0"/>
<circle cx="246" cy="307.6" r="3.45" fill="url(#gBlue)" stroke="none" stroke-width="0"/>
<circle cx="66.8" cy="376" r="2.9" fill="#8ae845" stroke="none" stroke-width="0"/>
<circle cx="66.95" cy="373.8" r="2.9" fill="#8ae845" stroke="none" stroke-width="0"/>
<circle cx="67.09" cy="371.6" r="2.9" fill="#8ae845" stroke="none" stroke-width="0"/>
<circle cx="67.3" cy="369.38" r="2.9" fill="#8ae845" stroke="none" stroke-width="0"/>
<circle cx="67.68" cy="367.13" r="2.9" fill="#8ae845" stroke="none" stroke-width="0"/>
<circle cx="68.06" cy="364.82" r="2.9" fill="#8ae845" stroke="none" stroke-width="0"/>
<circle cx="68.66" cy="362.48" r="2.9" fill="#8ae845" stroke="none" stroke-width="0"/>
<circle cx="69.38" cy="360.07" r="2.9" fill="#8ae845" stroke="none" stroke-width="0"/>
<circle cx="70.2" cy="357.56" r="2.9" fill="#8ae845" stroke="none" stroke-width="0"/>
<circle cx="71.35" cy="355.03" r="2.9" fill="#8ae845" stroke="none" stroke-width="0"/>
<circle cx="72.6" cy="352.36" r="2.9" fill="#8ae845" stroke="none" stroke-width="0"/>
<circle cx="74.32" cy="349.74" r="2.9" fill="#8ae845" stroke="none" stroke-width="0"/>
<circle cx="76.27" cy="347.03" r="2.9" fill="#8ae845" stroke="none" stroke-width="0"/>
<circle cx="78.8" cy="344.5" r="2.9" fill="#8ae845" stroke="none" stroke-width="0"/>
<circle cx="81.77" cy="342.13" r="2.9" fill="#8ae845" stroke="none" stroke-width="0"/>
<circle cx="85.17" cy="339.93" r="2.9" fill="#8ae845" stroke="none" stroke-width="0"/>
<circle cx="89.16" cy="338.34" r="2.9" fill="#8ae845" stroke="none" stroke-width="0"/>
<circle cx="93.49" cy="337.15" r="2.9" fill="#8ae845" stroke="none" stroke-width="0"/>
<circle cx="98.09" cy="336.49" r="2.9" fill="#8ae845" stroke="none" stroke-width="0"/>
<circle cx="102.85" cy="336.47" r="2.9" fill="#8ae845" stroke="none" stroke-width="0"/>
<circle cx="107.59" cy="337.17" r="2.9" fill="#8ae845" stroke="none" stroke-width="0"/>
<circle cx="112.15" cy="338.5" r="2.9" fill="#8ae845" stroke="none" stroke-width="0"/>
<circle cx="116.33" cy="340.44" r="2.9" fill="#8ae845" stroke="none" stroke-width="0"/>
<circle cx="120.02" cy="342.84" r="2.9" fill="#8ae845" stroke="none" stroke-width="0"/>
<circle cx="123.19" cy="345.55" r="2.9" fill="#8ae845" stroke="none" stroke-width="0"/>
<circle cx="125.9" cy="348.39" r="2.9" fill="#8ae845" stroke="none" stroke-width="0"/>
<circle cx="128.16" cy="351.28" r="2.9" fill="#8ae845" stroke="none" stroke-width="0"/>
<circle cx="130.14" cy="354.06" r="2.9" fill="#8ae845" stroke="none" stroke-width="0"/>
<circle cx="131.78" cy="356.8" r="2.9" fill="#8ae845" stroke="none" stroke-width="0"/>
<circle cx="133.21" cy="359.41" r="2.9" fill="#8ae845" stroke="none" stroke-width="0"/>
<circle cx="134.46" cy="361.92" r="2.9" fill="#8ae845" stroke="none" stroke-width="0"/>
<circle cx="135.63" cy="364.3" r="2.9" fill="#8ae845" stroke="none" stroke-width="0"/>
<circle cx="136.74" cy="366.56" r="2.9" fill="#8ae845" stroke="none" stroke-width="0"/>
<circle cx="137.96" cy="368.65" r="2.9" fill="#8ae845" stroke="none" stroke-width="0"/>
<circle cx="139.24" cy="370.6" r="2.9" fill="#8ae845" stroke="none" stroke-width="0"/>
<circle cx="141.01" cy="371.97" r="2.9" fill="#8ae845" stroke="none" stroke-width="0"/>
<circle cx="143.06" cy="372.49" r="2.9" fill="#8ae845" stroke="none" stroke-width="0"/>
<circle cx="145" cy="372.3" r="2.9" fill="#8ae845" stroke="none" stroke-width="0"/>
<circle cx="66.8" cy="376" r="0.7" fill="#e4ffd8" stroke="none" stroke-width="0"/>
<circle cx="66.95" cy="373.8" r="0.7" fill="#e4ffd8" stroke="none" stroke-width="0"/>
<circle cx="67.09" cy="371.6" r="0.7" fill="#e4ffd8" stroke="none" stroke-width="0"/>
<circle cx="67.3" cy="369.38" r="0.7" fill="#e4ffd8" stroke="none" stroke-width="0"/>
<circle cx="67.68" cy="367.13" r="0.7" fill="#e4ffd8" stroke="none" stroke-width="0"/>
<circle cx="68.06" cy="364.82" r="0.7" fill="#e4ffd8" stroke="none" stroke-width="0"/>
<circle cx="68.66" cy="362.48" r="0.7" fill="#e4ffd8" stroke="none" stroke-width="0"/>
<circle cx="69.38" cy="360.07" r="0.7" fill="#e4ffd8" stroke="none" stroke-width="0"/>
<circle cx="70.2" cy="357.56" r="0.7" fill="#e4ffd8" stroke="none" stroke-width="0"/>
<circle cx="71.35" cy="355.03" r="0.7" fill="#e4ffd8" stroke="none" stroke-width="0"/>
<circle cx="72.6" cy="352.36" r="0.7" fill="#e4ffd8" stroke="none" stroke-width="0"/>
<circle cx="74.32" cy="349.74" r="0.7" fill="#e4ffd8" stroke="none" stroke-width="0"/>
<circle cx="76.27" cy="347.03" r="0.7" fill="#e4ffd8" stroke="none" stroke-width="0"/>
<circle cx="78.8" cy="344.5" r="0.7" fill="#e4ffd8" stroke="none" stroke-width="0"/>
<circle cx="81.77" cy="342.13" r="0.7" fill="#e4ffd8" stroke="none" stroke-width="0"/>
<circle cx="85.17" cy="339.93" r="0.7" fill="#e4ffd8" stroke="none" stroke-width="0"/>
<circle cx="89.16" cy="338.34" r="0.7" fill="#e4ffd8" stroke="none" stroke-width="0"/>
<circle cx="93.49" cy="337.15" r="0.7" fill="#e4ffd8" stroke="none" stroke-width="0"/>
<circle cx="98.09" cy="336.49" r="0.7" fill="#e4ffd8" stroke="none" stroke-width="0"/>
<circle cx="102.85" cy="336.47" r="0.7" fill="#e4ffd8" stroke="none" stroke-width="0"/>
<circle cx="107.59" cy="337.17" r="0.7" fill="#e4ffd8" stroke="none" stroke-width="0"/>
<circle cx="112.15" cy="338.5" r="0.7" fill="#e4ffd8" stroke="none" stroke-width="0"/>
<circle cx="116.33" cy="340.44" r="0.7" fill="#e4ffd8" stroke="none" stroke-width="0"/>
<circle cx="120.02" cy="342.84" r="0.7" fill="#e4ffd8" stroke="none" stroke-width="0"/>
<circle cx="123.19" cy="345.55" r="0.7" fill="#e4ffd8" stroke="none" stroke-width="0"/>
<circle cx="125.9" cy="348.39" r="0.7" fill="#e4ffd8" stroke="none" stroke-width="0"/>
<circle cx="128.16" cy="351.28" r="0.7" fill="#e4ffd8" stroke="none" stroke-width="0"/>
<circle cx="130.14" cy="354.06" r="0.7" fill="#e4ffd8" stroke="none" stroke-width="0"/>
<circle cx="131.78" cy="356.8" r="0.7" fill="#e4ffd8" stroke="none" stroke-width="0"/>
<circle cx="133.21" cy="359.41" r="0.7" fill="#e4ffd8" stroke="none" stroke-width="0"/>
<circle cx="134.46" cy="361.92" r="0.7" fill="#e4ffd8" stroke="none" stroke-width="0"/>
<circle cx="135.63" cy="364.3" r="0.7" fill="#e4ffd8" stroke="none" stroke-width="0"/>
<circle cx="136.74" cy="366.56" r="0.7" fill="#e4ffd8" stroke="none" stroke-width="0"/>
<circle cx="137.96" cy="368.65" r="0.7" fill="#e4ffd8" stroke="none" stroke-width="0"/>
<circle cx="139.24" cy="370.6" r="0.7" fill="#e4ffd8" stroke="none" stroke-width="0"/>
<circle cx="141.01" cy="371.97" r="0.7" fill="#e4ffd8" stroke="none" stroke-width="0"/>
<circle cx="143.06" cy="372.49" r="0.7" fill="#e4ffd8" stroke="none" stroke-width="0"/>
<circle cx="145" cy="372.3" r="0.7" fill="#e4ffd8" stroke="none" stroke-width="0"/>
<circle cx="65.6" cy="379.6" r="3.4" fill="#ff40ac" stroke="none" stroke-width="0"/>
<circle cx="65.8" cy="376" r="3.4" fill="#ff40ac" stroke="none" stroke-width="0"/>
<circle cx="66" cy="373.6" r="3.4" fill="#ff40ac" stroke="none" stroke-width="0"/>
<circle cx="66.6" cy="371" r="3.4" fill="#ff40ac" stroke="none" stroke-width="0"/>
<circle cx="67.3" cy="368.7" r="3.4" fill="#ff40ac" stroke="none" stroke-width="0"/>
<circle cx="68.6" cy="366.5" r="3.4" fill="#ff40ac" stroke="none" stroke-width="0"/>
<circle cx="70.5" cy="364.6" r="3.4" fill="#ff40ac" stroke="none" stroke-width="0"/>
<circle cx="73" cy="363.4" r="3.4" fill="#ff40ac" stroke="none" stroke-width="0"/>
<circle cx="75.5" cy="362.6" r="3.4" fill="#ff40ac" stroke="none" stroke-width="0"/>
<circle cx="78.3" cy="362.2" r="3.4" fill="#ff40ac" stroke="none" stroke-width="0"/>
<circle cx="81.2" cy="361.8" r="3.4" fill="#ff40ac" stroke="none" stroke-width="0"/>
<circle cx="83.8" cy="361.3" r="3.4" fill="#ff40ac" stroke="none" stroke-width="0"/>
<circle cx="86.1" cy="360.5" r="3.4" fill="#ff40ac" stroke="none" stroke-width="0"/>
<circle cx="88.3" cy="359.5" r="3.4" fill="#ff40ac" stroke="none" stroke-width="0"/>
<circle cx="90.2" cy="358.1" r="3.4" fill="#ff40ac" stroke="none" stroke-width="0"/>
<circle cx="91.5" cy="356.9" r="3.4" fill="#ff40ac" stroke="none" stroke-width="0"/>
<circle cx="92.6" cy="355.6" r="3.4" fill="#ff40ac" stroke="none" stroke-width="0"/>
<circle cx="90.2" cy="358.1" r="3.3" fill="url(#gPink)" stroke="none" stroke-width="0"/>
<circle cx="91.5" cy="356.9" r="3.3" fill="url(#gPink)" stroke="none" stroke-width="0"/>
<circle cx="92.6" cy="355.6" r="3.3" fill="url(#gPink)" stroke="none" stroke-width="0"/>
<rect x="49.4" y="223" width="213.6" height="167" fill="none" stroke="#2a2a2a" stroke-width="1.3"/>
<line x1="136.4" y1="231.2" x2="156.1" y2="231.2" stroke="#7070d0" stroke-width="0.8"/>
<circle cx="146.3" cy="231.2" r="3.5" fill="url(#gBlue)" stroke="none" stroke-width="0"/>
<text x="159.3" y="234.6" font-size="9.6" text-anchor="start" font-weight="bold" fill="#111" stroke="#111" stroke-width="0.29" textLength="71.7" lengthAdjust="spacingAndGlyphs">Ti/TiO<tspan font-size="6.5" dy="2.1">2</tspan><tspan dy="-2.1">-NTs/PbO</tspan><tspan font-size="6.5" dy="2.1">2</tspan><tspan dy="-2.1"></tspan></text>
<line x1="136.4" y1="244.3" x2="156.1" y2="244.3" stroke="#f0b0a0" stroke-width="0.8"/>
<circle cx="146.3" cy="244.3" r="3.5" fill="#8de84a" stroke="none" stroke-width="0"/>
<circle cx="146.3" cy="244.3" r="1.3" fill="#eaffdf" stroke="none" stroke-width="0"/>
<text x="159.3" y="247.7" font-size="9.6" text-anchor="start" font-weight="bold" fill="#111" stroke="#111" stroke-width="0.29" textLength="78.7" lengthAdjust="spacingAndGlyphs">Ti/B-TiO<tspan font-size="6.5" dy="2.1">2</tspan><tspan dy="-2.1">-NTs/PbO</tspan><tspan font-size="6.5" dy="2.1">2</tspan><tspan dy="-2.1"></tspan></text>
<line x1="136.4" y1="256.6" x2="156.1" y2="256.6" stroke="#c0a0b0" stroke-width="0.8"/>
<circle cx="146.3" cy="256.6" r="3.5" fill="url(#gPink)" stroke="none" stroke-width="0"/>
<text x="159.3" y="260" font-size="9.6" text-anchor="start" font-weight="bold" fill="#111" stroke="#111" stroke-width="0.29" textLength="98.7" lengthAdjust="spacingAndGlyphs">Ti/B-TiO<tspan font-size="6.5" dy="2.1">2</tspan><tspan dy="-2.1">-NTs/PbO</tspan><tspan font-size="6.5" dy="2.1">2</tspan><tspan dy="-2.1">-SDS</tspan></text>
<text x="54" y="239.4" font-size="14.6" text-anchor="start" font-weight="bold" fill="#111" stroke="#111" stroke-width="0.3">(c)</text>
<path d="M152.6,355 L153.6,357.9 L155.6,352.1 L157.6,357.9 L159.6,352.1 L161.6,357.9 L163.6,352.1 L164.6,355" stroke="#7a7a7a" stroke-width="0.9" fill="none" stroke-linejoin="round" stroke-linecap="round"/>
<line x1="164.6" y1="355" x2="180.3" y2="355" stroke="#7a7a7a" stroke-width="0.9"/>
<circle cx="167.5" cy="355" r="1.2" fill="#7a7a7a" stroke="none" stroke-width="0"/>
<circle cx="177.5" cy="355" r="1.2" fill="#7a7a7a" stroke="none" stroke-width="0"/>
<rect x="180.3" y="351.8" width="11.2" height="7.6" fill="#fff" stroke="#7a7a7a" stroke-width="0.9"/>
<text x="185.9" y="357.6" font-size="6" text-anchor="middle" font-weight="bold" fill="#444" stroke="#444" stroke-width="0.18">W</text>
<line x1="191.5" y1="355" x2="206.5" y2="355" stroke="#7a7a7a" stroke-width="0.9"/>
<circle cx="194.7" cy="355" r="1.2" fill="#7a7a7a" stroke="none" stroke-width="0"/>
<line x1="206.5" y1="342.7" x2="206.5" y2="367.4" stroke="#7a7a7a" stroke-width="0.9"/>
<line x1="246.5" y1="342.7" x2="246.5" y2="367.4" stroke="#7a7a7a" stroke-width="0.9"/>
<line x1="206.5" y1="342.7" x2="220.3" y2="342.7" stroke="#7a7a7a" stroke-width="0.9"/>
<path d="M220.3,342.7 L221.3,345.6 L223.3,339.8 L225.3,345.6 L227.3,339.8 L229.3,345.6 L231.3,339.8 L232.3,342.7" stroke="#7a7a7a" stroke-width="0.9" fill="none" stroke-linejoin="round" stroke-linecap="round"/>
<line x1="232.3" y1="342.7" x2="246.5" y2="342.7" stroke="#7a7a7a" stroke-width="0.9"/>
<circle cx="217" cy="342.7" r="1.2" fill="#7a7a7a" stroke="none" stroke-width="0"/>
<circle cx="234.9" cy="342.7" r="1.2" fill="#7a7a7a" stroke="none" stroke-width="0"/>
<line x1="206.5" y1="367.4" x2="225.5" y2="367.4" stroke="#7a7a7a" stroke-width="0.9"/>
<line x1="229.5" y1="367.4" x2="246.5" y2="367.4" stroke="#7a7a7a" stroke-width="0.9"/>
<circle cx="219.2" cy="367.4" r="1.2" fill="#7a7a7a" stroke="none" stroke-width="0"/>
<circle cx="235.5" cy="367.4" r="1.2" fill="#7a7a7a" stroke="none" stroke-width="0"/>
<path d="M225.5,363.5 L227.5,367.4 L225.5,371.3 M229.5,363.5 L227.5,367.4 L229.5,371.3" stroke="#7a7a7a" stroke-width="0.9" fill="none" stroke-linejoin="round" stroke-linecap="round"/>
<line x1="246.5" y1="355" x2="256" y2="355" stroke="#7a7a7a" stroke-width="0.9"/>
<text x="220" y="337.3" font-size="10.5" text-anchor="start" font-weight="bold" fill="#111" stroke="#111" stroke-width="0.3">R<tspan font-size="7.5" dy="1">ct</tspan></text>
<text x="154.8" y="369.8" font-size="10" text-anchor="start" font-weight="bold" fill="#111" stroke="#111" stroke-width="0.3" textLength="9" lengthAdjust="spacingAndGlyphs">Rs</text>
<text x="219" y="379.6" font-size="10" text-anchor="start" font-weight="bold" fill="#111" stroke="#111" stroke-width="0.3" textLength="17.6" lengthAdjust="spacingAndGlyphs">CPE</text>
<text x="127.2" y="420.8" font-size="14.2" text-anchor="start" font-weight="bold" fill="#111" stroke="#111" stroke-width="0.3" textLength="15.6" lengthAdjust="spacingAndGlyphs">-Z'</text>
<text x="149.1" y="421.6" font-size="9" text-anchor="start" font-weight="bold" fill="#111" stroke="#111" stroke-width="0.27">(</text>
<text x="152.3" y="420.8" font-size="14.2" text-anchor="start" font-weight="bold" fill="#111" stroke="#111" stroke-width="0.3" textLength="30.4" lengthAdjust="spacingAndGlyphs">Ω cm</text>
<text x="183.6" y="416" font-size="12.5" text-anchor="start" font-weight="bold" fill="#111" stroke="#111" stroke-width="0.3" textLength="11.9" lengthAdjust="spacingAndGlyphs">-2</text>
<text x="196.4" y="421.6" font-size="9" text-anchor="start" font-weight="bold" fill="#111" stroke="#111" stroke-width="0.27">)</text>
<g transform="translate(23.8 348) rotate(-90)">
<text x="0" y="0" font-size="14.2" font-weight="bold" fill="#111" stroke="#111" stroke-width="0.3" textLength="22.3" lengthAdjust="spacingAndGlyphs">-Z''</text>
<text x="25" y="0.8" font-size="9" font-weight="bold" fill="#111" stroke="#111" stroke-width="0.3" textLength="3.2" lengthAdjust="spacingAndGlyphs">(</text>
<text x="29.5" y="0" font-size="14.2" font-weight="bold" fill="#111" stroke="#111" stroke-width="0.3" textLength="24.3" lengthAdjust="spacingAndGlyphs">Ω cm</text>
<text x="55.8" y="-7.4" font-size="13.5" font-weight="bold" fill="#111" stroke="#111" stroke-width="0.3" textLength="14.4" lengthAdjust="spacingAndGlyphs">-2</text>
<text x="71.5" y="0.8" font-size="9" font-weight="bold" fill="#111" stroke="#111" stroke-width="0.3" textLength="3.9" lengthAdjust="spacingAndGlyphs">)</text>
</g>
<line x1="316.5" y1="392.5" x2="319.5" y2="392.5" stroke="#2a2a2a" stroke-width="1"/>
<line x1="316.5" y1="378.62" x2="318.3" y2="378.62" stroke="#2a2a2a" stroke-width="1"/>
<line x1="316.5" y1="364.75" x2="319.5" y2="364.75" stroke="#2a2a2a" stroke-width="1"/>
<line x1="316.5" y1="350.88" x2="318.3" y2="350.88" stroke="#2a2a2a" stroke-width="1"/>
<line x1="316.5" y1="337" x2="319.5" y2="337" stroke="#2a2a2a" stroke-width="1"/>
<line x1="316.5" y1="323.12" x2="318.3" y2="323.12" stroke="#2a2a2a" stroke-width="1"/>
<line x1="316.5" y1="309.25" x2="319.5" y2="309.25" stroke="#2a2a2a" stroke-width="1"/>
<line x1="316.5" y1="295.38" x2="318.3" y2="295.38" stroke="#2a2a2a" stroke-width="1"/>
<line x1="316.5" y1="281.5" x2="319.5" y2="281.5" stroke="#2a2a2a" stroke-width="1"/>
<line x1="316.5" y1="267.62" x2="318.3" y2="267.62" stroke="#2a2a2a" stroke-width="1"/>
<line x1="316.5" y1="253.75" x2="319.5" y2="253.75" stroke="#2a2a2a" stroke-width="1"/>
<line x1="316.5" y1="239.88" x2="318.3" y2="239.88" stroke="#2a2a2a" stroke-width="1"/>
<line x1="316.5" y1="226" x2="319.5" y2="226" stroke="#2a2a2a" stroke-width="1"/>
<line x1="343.88" y1="396.9" x2="343.88" y2="395.1" stroke="#2a2a2a" stroke-width="1"/>
<line x1="371.25" y1="396.9" x2="371.25" y2="393.9" stroke="#2a2a2a" stroke-width="1"/>
<line x1="398.62" y1="396.9" x2="398.62" y2="395.1" stroke="#2a2a2a" stroke-width="1"/>
<line x1="426" y1="396.9" x2="426" y2="393.9" stroke="#2a2a2a" stroke-width="1"/>
<line x1="453.38" y1="396.9" x2="453.38" y2="395.1" stroke="#2a2a2a" stroke-width="1"/>
<line x1="480.75" y1="396.9" x2="480.75" y2="393.9" stroke="#2a2a2a" stroke-width="1"/>
<line x1="508.12" y1="396.9" x2="508.12" y2="395.1" stroke="#2a2a2a" stroke-width="1"/>
<line x1="535.5" y1="396.9" x2="535.5" y2="393.9" stroke="#2a2a2a" stroke-width="1"/>
<text x="312.8" y="396.8" font-size="11.88" text-anchor="end" font-weight="bold" fill="#111" stroke="#111" stroke-width="0.3" textLength="13.75" lengthAdjust="spacingAndGlyphs">0.0</text>
<text x="312.8" y="369.05" font-size="11.88" text-anchor="end" font-weight="bold" fill="#111" stroke="#111" stroke-width="0.3" textLength="13.75" lengthAdjust="spacingAndGlyphs">0.5</text>
<text x="312.8" y="341.3" font-size="11.88" text-anchor="end" font-weight="bold" fill="#111" stroke="#111" stroke-width="0.3" textLength="13.75" lengthAdjust="spacingAndGlyphs">1.0</text>
<text x="312.8" y="313.55" font-size="11.88" text-anchor="end" font-weight="bold" fill="#111" stroke="#111" stroke-width="0.3" textLength="13.75" lengthAdjust="spacingAndGlyphs">1.5</text>
<text x="312.8" y="285.8" font-size="11.88" text-anchor="end" font-weight="bold" fill="#111" stroke="#111" stroke-width="0.3" textLength="13.75" lengthAdjust="spacingAndGlyphs">2.0</text>
<text x="312.8" y="258.05" font-size="11.88" text-anchor="end" font-weight="bold" fill="#111" stroke="#111" stroke-width="0.3" textLength="13.75" lengthAdjust="spacingAndGlyphs">2.5</text>
<text x="312.8" y="230.3" font-size="11.88" text-anchor="end" font-weight="bold" fill="#111" stroke="#111" stroke-width="0.3" textLength="13.75" lengthAdjust="spacingAndGlyphs">3.0</text>
<text x="316.5" y="411.3" font-size="11.88" text-anchor="middle" font-weight="bold" fill="#111" stroke="#111" stroke-width="0.3" textLength="19.25" lengthAdjust="spacingAndGlyphs">0.50</text>
<text x="371.25" y="411.3" font-size="11.88" text-anchor="middle" font-weight="bold" fill="#111" stroke="#111" stroke-width="0.3" textLength="19.25" lengthAdjust="spacingAndGlyphs">0.75</text>
<text x="426" y="411.3" font-size="11.88" text-anchor="middle" font-weight="bold" fill="#111" stroke="#111" stroke-width="0.3" textLength="19.25" lengthAdjust="spacingAndGlyphs">1.00</text>
<text x="480.75" y="411.3" font-size="11.88" text-anchor="middle" font-weight="bold" fill="#111" stroke="#111" stroke-width="0.3" textLength="19.25" lengthAdjust="spacingAndGlyphs">1.25</text>
<text x="535.5" y="411.3" font-size="11.88" text-anchor="middle" font-weight="bold" fill="#111" stroke="#111" stroke-width="0.3" textLength="19.25" lengthAdjust="spacingAndGlyphs">1.50</text>
<rect x="350.3" y="272.5" width="88.80000000000001" height="68.0" fill="#fff" stroke="#666" stroke-width="0.8"/>
<text x="348.6" y="337.8" font-size="4.4" text-anchor="end" font-weight="bold" fill="#111" stroke="#111" stroke-width="0.13">0.0</text>
<text x="348.6" y="328.76" font-size="4.4" text-anchor="end" font-weight="bold" fill="#111" stroke="#111" stroke-width="0.13">2.0</text>
<text x="348.6" y="319.71" font-size="4.4" text-anchor="end" font-weight="bold" fill="#111" stroke="#111" stroke-width="0.13">4.0</text>
<text x="348.6" y="310.67" font-size="4.4" text-anchor="end" font-weight="bold" fill="#111" stroke="#111" stroke-width="0.13">6.0</text>
<text x="348.6" y="301.63" font-size="4.4" text-anchor="end" font-weight="bold" fill="#111" stroke="#111" stroke-width="0.13">8.0</text>
<text x="348.6" y="292.59" font-size="4.4" text-anchor="end" font-weight="bold" fill="#111" stroke="#111" stroke-width="0.13">10.0</text>
<text x="348.6" y="283.54" font-size="4.4" text-anchor="end" font-weight="bold" fill="#111" stroke="#111" stroke-width="0.13">12.0</text>
<text x="348.6" y="274.5" font-size="4.4" text-anchor="end" font-weight="bold" fill="#111" stroke="#111" stroke-width="0.13">14.0</text>
<text x="350.3" y="346" font-size="4.4" text-anchor="middle" font-weight="bold" fill="#111" stroke="#111" stroke-width="0.13">0.50</text>
<text x="372.5" y="346" font-size="4.4" text-anchor="middle" font-weight="bold" fill="#111" stroke="#111" stroke-width="0.13">0.75</text>
<text x="394.7" y="346" font-size="4.4" text-anchor="middle" font-weight="bold" fill="#111" stroke="#111" stroke-width="0.13">1.00</text>
<text x="416.9" y="346" font-size="4.4" text-anchor="middle" font-weight="bold" fill="#111" stroke="#111" stroke-width="0.13">1.25</text>
<text x="439.1" y="346" font-size="4.4" text-anchor="middle" font-weight="bold" fill="#111" stroke="#111" stroke-width="0.13">1.50</text>
<line x1="350.3" y1="327.26" x2="351.5" y2="327.26" stroke="#666" stroke-width="0.5"/>
<line x1="350.3" y1="318.21" x2="351.5" y2="318.21" stroke="#666" stroke-width="0.5"/>
<line x1="350.3" y1="309.17" x2="351.5" y2="309.17" stroke="#666" stroke-width="0.5"/>
<line x1="350.3" y1="300.13" x2="351.5" y2="300.13" stroke="#666" stroke-width="0.5"/>
<line x1="350.3" y1="291.09" x2="351.5" y2="291.09" stroke="#666" stroke-width="0.5"/>
<line x1="350.3" y1="282.04" x2="351.5" y2="282.04" stroke="#666" stroke-width="0.5"/>
<line x1="350.3" y1="273" x2="351.5" y2="273" stroke="#666" stroke-width="0.5"/>
<line x1="372.5" y1="340.5" x2="372.5" y2="339.3" stroke="#666" stroke-width="0.5"/>
<line x1="394.7" y1="340.5" x2="394.7" y2="339.3" stroke="#666" stroke-width="0.5"/>
<line x1="416.9" y1="340.5" x2="416.9" y2="339.3" stroke="#666" stroke-width="0.5"/>
<text x="364.5" y="352.6" font-size="6.4" text-anchor="start" font-weight="bold" fill="#111" stroke="#111" stroke-width="0.19" textLength="54.6" lengthAdjust="spacingAndGlyphs">Potential (V vs. SCE)</text>
<text x="340.6" y="331" font-size="5.2" text-anchor="start" font-weight="bold" fill="#111" stroke="#111" stroke-width="0.16" transform="rotate(-90 340.6 331)" textLength="46" lengthAdjust="spacingAndGlyphs">1/C<tspan font-size="3.5" dy="-2">2</tspan><tspan dy="2">(10</tspan><tspan font-size="3.5" dy="-2">8</tspan><tspan dy="2">cm</tspan><tspan font-size="3.5" dy="-2">4</tspan><tspan dy="2">·F</tspan><tspan font-size="3.5" dy="-2">-2</tspan><tspan dy="2">)</tspan></text>
<line x1="392.7" y1="340.5" x2="439.1" y2="283" stroke="#20d0c8" stroke-width="1.3" stroke-dasharray="2.5,1.5"/>
<path d="M350.3,330 C351.12,329.97 353.58,329.88 355.2,329.8 C356.82,329.72 358.37,329.6 360,329.5 C361.63,329.4 363.33,329.32 365,329.2 C366.67,329.08 368.33,328.95 370,328.8 C371.67,328.65 373.33,328.5 375,328.3 C376.67,328.1 378.33,327.88 380,327.6 C381.67,327.32 383.33,327 385,326.6 C386.67,326.2 388.33,325.7 390,325.2 C391.67,324.7 393.5,324.18 395,323.6 C396.5,323.02 397.58,322.57 399,321.7 C400.42,320.83 402,319.58 403.5,318.4 C405,317.22 406.58,315.83 408,314.6 C409.42,313.37 410.58,312.47 412,311 C413.42,309.53 415,307.5 416.5,305.8 C418,304.1 419.5,302.33 421,300.8 C422.5,299.27 424,298 425.5,296.6 C427,295.2 428.5,293.9 430,292.4 C431.5,290.9 433.07,289.23 434.5,287.6 C435.93,285.97 437.92,283.43 438.6,282.6" stroke="#ee2020" stroke-width="1.1" fill="none" stroke-linejoin="round" stroke-linecap="round"/>
<circle cx="350.3" cy="330" r="1.25" fill="#ee2020" stroke="none" stroke-width="0"/>
<circle cx="355.2" cy="329.8" r="1.25" fill="#ee2020" stroke="none" stroke-width="0"/>
<circle cx="360" cy="329.5" r="1.25" fill="#ee2020" stroke="none" stroke-width="0"/>
<circle cx="365" cy="329.2" r="1.25" fill="#ee2020" stroke="none" stroke-width="0"/>
<circle cx="370" cy="328.8" r="1.25" fill="#ee2020" stroke="none" stroke-width="0"/>
<circle cx="375" cy="328.3" r="1.25" fill="#ee2020" stroke="none" stroke-width="0"/>
<circle cx="380" cy="327.6" r="1.25" fill="#ee2020" stroke="none" stroke-width="0"/>
<circle cx="385" cy="326.6" r="1.25" fill="#ee2020" stroke="none" stroke-width="0"/>
<circle cx="390" cy="325.2" r="1.25" fill="#ee2020" stroke="none" stroke-width="0"/>
<circle cx="395" cy="323.6" r="1.25" fill="#ee2020" stroke="none" stroke-width="0"/>
<circle cx="399" cy="321.7" r="1.25" fill="#ee2020" stroke="none" stroke-width="0"/>
<circle cx="403.5" cy="318.4" r="1.25" fill="#ee2020" stroke="none" stroke-width="0"/>
<circle cx="408" cy="314.6" r="1.25" fill="#ee2020" stroke="none" stroke-width="0"/>
<circle cx="412" cy="311" r="1.25" fill="#ee2020" stroke="none" stroke-width="0"/>
<circle cx="416.5" cy="305.8" r="1.25" fill="#ee2020" stroke="none" stroke-width="0"/>
<circle cx="421" cy="300.8" r="1.25" fill="#ee2020" stroke="none" stroke-width="0"/>
<circle cx="425.5" cy="296.6" r="1.25" fill="#ee2020" stroke="none" stroke-width="0"/>
<circle cx="430" cy="292.4" r="1.25" fill="#ee2020" stroke="none" stroke-width="0"/>
<circle cx="434.5" cy="287.6" r="1.25" fill="#ee2020" stroke="none" stroke-width="0"/>
<circle cx="438.6" cy="282.6" r="1.25" fill="#ee2020" stroke="none" stroke-width="0"/>
<line x1="354" y1="280.3" x2="361.4" y2="280.3" stroke="#ee2020" stroke-width="0.9"/>
<circle cx="357.7" cy="280.3" r="1.1" fill="#ee2020" stroke="none" stroke-width="0"/>
<text x="363.6" y="281.8" font-size="4.8" text-anchor="start" font-weight="bold" fill="#111" stroke="#111" stroke-width="0.14" textLength="25" lengthAdjust="spacingAndGlyphs">B-TiO<tspan font-size="3.2" dy="0.8">2</tspan><tspan dy="-0.8">-NTs</tspan></text>
<text x="398.8" y="337.8" font-size="4.8" text-anchor="start" font-weight="bold" fill="#111" stroke="#111" stroke-width="0.14" textLength="24" lengthAdjust="spacingAndGlyphs">E<tspan font-size="3.2" dy="0.8">fb</tspan><tspan dy="-0.8"> = 0.94 eV</tspan></text>
<line x1="499.6" y1="397.2" x2="524.8" y2="289.7" stroke="#8fe04a" stroke-width="1.4" stroke-dasharray="5,3.5"/>
<path d="M316.5,392.2 L327.45,392.1 L338.4,392 L349.35,391.9 L360.3,391.8 L371.25,391.7 L382.2,391.6 L393.15,391.5 L404.1,391.4 L415.05,391.3 L426,391.1 L436.95,390.6 L447.9,389.8 L458.85,387.1 L469.8,383.9 L480.75,379.4 L491.7,369.9 L502.65,354.2 L513.6,330 L524.55,294.2 L535.5,240.6" stroke="#1515ff" stroke-width="1.8" fill="none" stroke-linejoin="round" stroke-linecap="round"/>
<path d="M316.5,392.2 L327.45,392.04 L338.4,391.88 L349.35,391.72 L360.3,391.56 L371.25,391.4 L382.2,391.24 L393.15,391.08 L404.1,390.92 L415.05,390.76 L426,390.6 L436.95,390.06 L447.9,389.52 L458.85,388.98 L469.8,388.44 L480.75,387.9 L491.7,387.36 L502.65,386.82 L513.6,386.28 L524.55,385.74 L535.5,385.2" stroke="#f06060" stroke-width="1.2" fill="none" stroke-linejoin="round" stroke-linecap="round"/>
<circle cx="316.5" cy="392.2" r="2.9" fill="url(#gSalmon)" stroke="none" stroke-width="0"/>
<circle cx="327.45" cy="392.04" r="2.9" fill="url(#gSalmon)" stroke="none" stroke-width="0"/>
<circle cx="338.4" cy="391.88" r="2.9" fill="url(#gSalmon)" stroke="none" stroke-width="0"/>
<circle cx="349.35" cy="391.72" r="2.9" fill="url(#gSalmon)" stroke="none" stroke-width="0"/>
<circle cx="360.3" cy="391.56" r="2.9" fill="url(#gSalmon)" stroke="none" stroke-width="0"/>
<circle cx="371.25" cy="391.4" r="2.9" fill="url(#gSalmon)" stroke="none" stroke-width="0"/>
<circle cx="382.2" cy="391.24" r="2.9" fill="url(#gSalmon)" stroke="none" stroke-width="0"/>
<circle cx="393.15" cy="391.08" r="2.9" fill="url(#gSalmon)" stroke="none" stroke-width="0"/>
<circle cx="404.1" cy="390.92" r="2.9" fill="url(#gSalmon)" stroke="none" stroke-width="0"/>
<circle cx="415.05" cy="390.76" r="2.9" fill="url(#gSalmon)" stroke="none" stroke-width="0"/>
<circle cx="426" cy="390.6" r="2.9" fill="url(#gSalmon)" stroke="none" stroke-width="0"/>
<circle cx="436.95" cy="390.06" r="2.9" fill="url(#gSalmon)" stroke="none" stroke-width="0"/>
<circle cx="447.9" cy="389.52" r="2.9" fill="url(#gSalmon)" stroke="none" stroke-width="0"/>
<circle cx="458.85" cy="388.98" r="2.9" fill="url(#gSalmon)" stroke="none" stroke-width="0"/>
<circle cx="469.8" cy="388.44" r="2.9" fill="url(#gSalmon)" stroke="none" stroke-width="0"/>
<circle cx="480.75" cy="387.9" r="2.9" fill="url(#gSalmon)" stroke="none" stroke-width="0"/>
<circle cx="491.7" cy="387.36" r="2.9" fill="url(#gSalmon)" stroke="none" stroke-width="0"/>
<circle cx="502.65" cy="386.82" r="2.9" fill="url(#gSalmon)" stroke="none" stroke-width="0"/>
<circle cx="513.6" cy="386.28" r="2.9" fill="url(#gSalmon)" stroke="none" stroke-width="0"/>
<circle cx="524.55" cy="385.74" r="2.9" fill="url(#gSalmon)" stroke="none" stroke-width="0"/>
<circle cx="535.5" cy="385.2" r="2.9" fill="url(#gSalmon)" stroke="none" stroke-width="0"/>
<circle cx="426" cy="391.1" r="3.2" fill="url(#gBlue2)" stroke="none" stroke-width="0"/>
<circle cx="436.95" cy="390.6" r="3.2" fill="url(#gBlue2)" stroke="none" stroke-width="0"/>
<circle cx="447.9" cy="389.8" r="3.2" fill="url(#gBlue2)" stroke="none" stroke-width="0"/>
<circle cx="458.85" cy="387.1" r="3.2" fill="url(#gBlue2)" stroke="none" stroke-width="0"/>
<circle cx="469.8" cy="383.9" r="3.2" fill="url(#gBlue2)" stroke="none" stroke-width="0"/>
<circle cx="480.75" cy="379.4" r="3.2" fill="url(#gBlue2)" stroke="none" stroke-width="0"/>
<circle cx="491.7" cy="369.9" r="3.2" fill="url(#gBlue2)" stroke="none" stroke-width="0"/>
<circle cx="502.65" cy="354.2" r="3.2" fill="url(#gBlue2)" stroke="none" stroke-width="0"/>
<circle cx="513.6" cy="330" r="3.2" fill="url(#gBlue2)" stroke="none" stroke-width="0"/>
<circle cx="524.55" cy="294.2" r="3.2" fill="url(#gBlue2)" stroke="none" stroke-width="0"/>
<circle cx="535.5" cy="240.6" r="3.2" fill="url(#gBlue2)" stroke="none" stroke-width="0"/>
<line x1="471.5" y1="377.2" x2="499.6" y2="398.5" stroke="#ff8c00" stroke-width="1.3"/>
<path d="M468.6,375 L474.6,376.6 L472.1,380.1 Z" stroke="#ff8c00" stroke-width="0.5" fill="#ff8c00" stroke-linejoin="round" stroke-linecap="round"/>
<text x="408.2" y="373.8" font-size="11.5" text-anchor="start" font-weight="bold" fill="#111" stroke="#111" stroke-width="0.3" textLength="62.5" lengthAdjust="spacingAndGlyphs">E<tspan font-size="8" dy="3">fb</tspan><tspan dy="-3">= 1.29 eV</tspan></text>
<rect x="316.5" y="222.6" width="226.9" height="174.3" fill="none" stroke="#2a2a2a" stroke-width="1.3"/>
<line x1="433.6" y1="233.4" x2="455.2" y2="233.4" stroke="#1515ff" stroke-width="1.8"/>
<circle cx="444.5" cy="233.4" r="2.9" fill="url(#gBlue2)" stroke="none" stroke-width="0"/>
<line x1="433.6" y1="249.3" x2="455.2" y2="249.3" stroke="#f06060" stroke-width="1.2"/>
<circle cx="444.5" cy="249.3" r="2.9" fill="url(#gSalmon)" stroke="none" stroke-width="0"/>
<text x="458.2" y="237.6" font-size="12.5" text-anchor="start" font-weight="bold" fill="#111" stroke="#111" stroke-width="0.3" textLength="49.3" lengthAdjust="spacingAndGlyphs">TiO<tspan font-size="8.5" dy="3">2</tspan><tspan dy="-3">-NTs</tspan></text>
<text x="458.2" y="253.5" font-size="12.5" text-anchor="start" font-weight="bold" fill="#111" stroke="#111" stroke-width="0.3" textLength="61.8" lengthAdjust="spacingAndGlyphs">B-TiO<tspan font-size="8.5" dy="3">2</tspan><tspan dy="-3">-NTs</tspan></text>
<text x="319.3" y="237.4" font-size="15" text-anchor="start" font-weight="bold" fill="#111" stroke="#111" stroke-width="0.3">(d)</text>
<text x="361" y="425.6" font-size="14.8" text-anchor="start" font-weight="bold" fill="#111" stroke="#111" stroke-width="0.3" textLength="136.8" lengthAdjust="spacingAndGlyphs">Potential (V <tspan font-style="italic">vs.</tspan> SCE)</text>
<text x="291.6" y="352.6" font-size="15" text-anchor="start" font-weight="bold" fill="#111" stroke="#111" stroke-width="0.3" transform="rotate(-90 291.6 352.6)" textLength="106" lengthAdjust="spacingAndGlyphs">1/C<tspan font-size="10" dy="-6">2</tspan><tspan dy="6">(10</tspan><tspan font-size="10" dy="-6">4</tspan><tspan dy="6">cm</tspan><tspan font-size="10" dy="-6">4</tspan><tspan dy="6">·F</tspan><tspan font-size="10" dy="-6">-2</tspan><tspan dy="6">)</tspan></text>
<line x1="56.2" y1="591.5" x2="59.2" y2="591.5" stroke="#2a2a2a" stroke-width="1"/>
<line x1="56.2" y1="579.16" x2="58" y2="579.16" stroke="#2a2a2a" stroke-width="1"/>
<line x1="56.2" y1="566.82" x2="59.2" y2="566.82" stroke="#2a2a2a" stroke-width="1"/>
<line x1="56.2" y1="554.47" x2="58" y2="554.47" stroke="#2a2a2a" stroke-width="1"/>
<line x1="56.2" y1="542.13" x2="59.2" y2="542.13" stroke="#2a2a2a" stroke-width="1"/>
<line x1="56.2" y1="529.79" x2="58" y2="529.79" stroke="#2a2a2a" stroke-width="1"/>
<line x1="56.2" y1="517.45" x2="59.2" y2="517.45" stroke="#2a2a2a" stroke-width="1"/>
<line x1="56.2" y1="505.1" x2="58" y2="505.1" stroke="#2a2a2a" stroke-width="1"/>
<line x1="56.2" y1="492.76" x2="59.2" y2="492.76" stroke="#2a2a2a" stroke-width="1"/>
<line x1="56.2" y1="480.42" x2="58" y2="480.42" stroke="#2a2a2a" stroke-width="1"/>
<line x1="56.2" y1="468.08" x2="59.2" y2="468.08" stroke="#2a2a2a" stroke-width="1"/>
<line x1="56.2" y1="455.73" x2="58" y2="455.73" stroke="#2a2a2a" stroke-width="1"/>
<line x1="56.2" y1="443.39" x2="59.2" y2="443.39" stroke="#2a2a2a" stroke-width="1"/>
<line x1="73.7" y1="604.2" x2="73.7" y2="602.4" stroke="#2a2a2a" stroke-width="1"/>
<line x1="91.2" y1="604.2" x2="91.2" y2="601.2" stroke="#2a2a2a" stroke-width="1"/>
<line x1="108.7" y1="604.2" x2="108.7" y2="602.4" stroke="#2a2a2a" stroke-width="1"/>
<line x1="126.2" y1="604.2" x2="126.2" y2="601.2" stroke="#2a2a2a" stroke-width="1"/>
<line x1="143.7" y1="604.2" x2="143.7" y2="602.4" stroke="#2a2a2a" stroke-width="1"/>
<line x1="161.2" y1="604.2" x2="161.2" y2="601.2" stroke="#2a2a2a" stroke-width="1"/>
<line x1="178.7" y1="604.2" x2="178.7" y2="602.4" stroke="#2a2a2a" stroke-width="1"/>
<line x1="196.2" y1="604.2" x2="196.2" y2="601.2" stroke="#2a2a2a" stroke-width="1"/>
<line x1="213.7" y1="604.2" x2="213.7" y2="602.4" stroke="#2a2a2a" stroke-width="1"/>
<line x1="231.2" y1="604.2" x2="231.2" y2="601.2" stroke="#2a2a2a" stroke-width="1"/>
<line x1="248.7" y1="604.2" x2="248.7" y2="602.4" stroke="#2a2a2a" stroke-width="1"/>
<text x="52.4" y="594.9" font-size="11.88" text-anchor="end" font-weight="bold" fill="#111" stroke="#111" stroke-width="0.3" textLength="24.75" lengthAdjust="spacingAndGlyphs">0.005</text>
<text x="52.4" y="570.22" font-size="11.88" text-anchor="end" font-weight="bold" fill="#111" stroke="#111" stroke-width="0.3" textLength="24.75" lengthAdjust="spacingAndGlyphs">0.010</text>
<text x="52.4" y="545.53" font-size="11.88" text-anchor="end" font-weight="bold" fill="#111" stroke="#111" stroke-width="0.3" textLength="24.75" lengthAdjust="spacingAndGlyphs">0.015</text>
<text x="52.4" y="520.85" font-size="11.88" text-anchor="end" font-weight="bold" fill="#111" stroke="#111" stroke-width="0.3" textLength="24.75" lengthAdjust="spacingAndGlyphs">0.020</text>
<text x="52.4" y="496.16" font-size="11.88" text-anchor="end" font-weight="bold" fill="#111" stroke="#111" stroke-width="0.3" textLength="24.75" lengthAdjust="spacingAndGlyphs">0.025</text>
<text x="52.4" y="471.48" font-size="11.88" text-anchor="end" font-weight="bold" fill="#111" stroke="#111" stroke-width="0.3" textLength="24.75" lengthAdjust="spacingAndGlyphs">0.030</text>
<text x="52.4" y="446.79" font-size="11.88" text-anchor="end" font-weight="bold" fill="#111" stroke="#111" stroke-width="0.3" textLength="24.75" lengthAdjust="spacingAndGlyphs">0.035</text>
<text x="56.2" y="617.3" font-size="11.88" text-anchor="middle" font-weight="bold" fill="#111" stroke="#111" stroke-width="0.3" textLength="19.25" lengthAdjust="spacingAndGlyphs">0.05</text>
<text x="91.2" y="617.3" font-size="11.88" text-anchor="middle" font-weight="bold" fill="#111" stroke="#111" stroke-width="0.3" textLength="19.25" lengthAdjust="spacingAndGlyphs">0.10</text>
<text x="126.2" y="617.3" font-size="11.88" text-anchor="middle" font-weight="bold" fill="#111" stroke="#111" stroke-width="0.3" textLength="19.25" lengthAdjust="spacingAndGlyphs">0.15</text>
<text x="161.2" y="617.3" font-size="11.88" text-anchor="middle" font-weight="bold" fill="#111" stroke="#111" stroke-width="0.3" textLength="19.25" lengthAdjust="spacingAndGlyphs">0.20</text>
<text x="196.2" y="617.3" font-size="11.88" text-anchor="middle" font-weight="bold" fill="#111" stroke="#111" stroke-width="0.3" textLength="19.25" lengthAdjust="spacingAndGlyphs">0.25</text>
<text x="231.2" y="617.3" font-size="11.88" text-anchor="middle" font-weight="bold" fill="#111" stroke="#111" stroke-width="0.3" textLength="19.25" lengthAdjust="spacingAndGlyphs">0.30</text>
<text x="266.2" y="617.3" font-size="11.88" text-anchor="middle" font-weight="bold" fill="#111" stroke="#111" stroke-width="0.3" textLength="19.25" lengthAdjust="spacingAndGlyphs">0.35</text>
<line x1="70.5" y1="596.1" x2="243" y2="538.5" stroke="#ff2a2a" stroke-width="1.6"/>
<line x1="69.8" y1="578.7" x2="243" y2="490.2" stroke="#ff8a10" stroke-width="1.6"/>
<line x1="70.8" y1="558.3" x2="243.2" y2="439.4" stroke="#88e040" stroke-width="1.6"/>
<circle cx="70.69" cy="595.3" r="2.6" fill="#fff" stroke="#ff1aa0" stroke-width="0.9"/>
<path d="M70.69,592.7 A2.6,2.6 0 0 1 70.69,597.9 Z" fill="#ff1aa0"/>
<circle cx="91.2" cy="587.4" r="2.6" fill="#fff" stroke="#ff1aa0" stroke-width="0.9"/>
<path d="M91.2,584.8 A2.6,2.6 0 0 1 91.2,590 Z" fill="#ff1aa0"/>
<circle cx="120.18" cy="583.1" r="2.6" fill="#fff" stroke="#ff1aa0" stroke-width="0.9"/>
<path d="M120.18,580.5 A2.6,2.6 0 0 1 120.18,585.7 Z" fill="#ff1aa0"/>
<circle cx="177.72" cy="561.2" r="2.6" fill="#fff" stroke="#ff1aa0" stroke-width="0.9"/>
<path d="M177.72,558.6 A2.6,2.6 0 0 1 177.72,563.8 Z" fill="#ff1aa0"/>
<circle cx="242.54" cy="538.7" r="2.6" fill="#fff" stroke="#ff1aa0" stroke-width="0.9"/>
<path d="M242.54,536.1 A2.6,2.6 0 0 1 242.54,541.3 Z" fill="#ff1aa0"/>
<path d="M70.69,574.7 L73.99,578 L70.69,581.3 L67.39,578 Z" fill="#fff" stroke="#ff8a10" stroke-width="0.9"/>
<path d="M67.39,578 L70.69,574.7 L73.99,578 Z" fill="#ff8a10"/>
<path d="M91.2,564.2 L94.5,567.5 L91.2,570.8 L87.9,567.5 Z" fill="#fff" stroke="#ff8a10" stroke-width="0.9"/>
<path d="M87.9,567.5 L91.2,564.2 L94.5,567.5 Z" fill="#ff8a10"/>
<path d="M120.18,555.1 L123.48,558.4 L120.18,561.7 L116.88,558.4 Z" fill="#fff" stroke="#ff8a10" stroke-width="0.9"/>
<path d="M116.88,558.4 L120.18,555.1 L123.48,558.4 Z" fill="#ff8a10"/>
<path d="M177.72,520 L181.02,523.3 L177.72,526.6 L174.42,523.3 Z" fill="#fff" stroke="#ff8a10" stroke-width="0.9"/>
<path d="M174.42,523.3 L177.72,520 L181.02,523.3 Z" fill="#ff8a10"/>
<path d="M242.54,487.1 L245.84,490.4 L242.54,493.7 L239.24,490.4 Z" fill="#fff" stroke="#ff8a10" stroke-width="0.9"/>
<path d="M239.24,490.4 L242.54,487.1 L245.84,490.4 Z" fill="#ff8a10"/>
<rect x="68.49" y="555.4" width="4.4" height="4.4" fill="#eefde2" stroke="#b0ec80" stroke-width="0.8"/>
<rect x="70.69" y="555.4" width="2.2" height="4.4" fill="#88e040"/>
<rect x="89" y="545" width="4.4" height="4.4" fill="#eefde2" stroke="#b0ec80" stroke-width="0.8"/>
<rect x="91.2" y="545" width="2.2" height="4.4" fill="#88e040"/>
<rect x="117.98" y="521.4" width="4.4" height="4.4" fill="#eefde2" stroke="#b0ec80" stroke-width="0.8"/>
<rect x="120.18" y="521.4" width="2.2" height="4.4" fill="#88e040"/>
<rect x="175.52" y="480.3" width="4.4" height="4.4" fill="#eefde2" stroke="#b0ec80" stroke-width="0.8"/>
<rect x="177.72" y="480.3" width="2.2" height="4.4" fill="#88e040"/>
<rect x="240.34" y="437.2" width="4.4" height="4.4" fill="#eefde2" stroke="#b0ec80" stroke-width="0.8"/>
<rect x="242.54" y="437.2" width="2.2" height="4.4" fill="#88e040"/>
<rect x="56.2" y="431" width="210" height="173.2" fill="none" stroke="#2a2a2a" stroke-width="1.3"/>
<circle cx="89" cy="439" r="2.7" fill="#fff" stroke="#ff1aa0" stroke-width="0.9"/>
<path d="M89,436.3 A2.7,2.7 0 0 1 89,441.7 Z" fill="#ff1aa0"/>
<path d="M89,448.8 L92.4,452.2 L89,455.6 L85.6,452.2 Z" fill="#fff" stroke="#ff8a10" stroke-width="0.9"/>
<path d="M85.6,452.2 L89,448.8 L92.4,452.2 Z" fill="#ff8a10"/>
<rect x="86.8" y="462.8" width="4.4" height="4.4" fill="#eefde2" stroke="#b0ec80" stroke-width="0.8"/>
<rect x="89" y="462.8" width="2.2" height="4.4" fill="#88e040"/>
<text x="101" y="442.4" font-size="9.6" text-anchor="start" font-weight="bold" fill="#111" stroke="#111" stroke-width="0.29" textLength="69.5" lengthAdjust="spacingAndGlyphs">Ti/TiO<tspan font-size="6.5" dy="2.1">2</tspan><tspan dy="-2.1">-NTs/PbO</tspan><tspan font-size="6.5" dy="2.1">2</tspan><tspan dy="-2.1"></tspan></text>
<text x="101" y="455" font-size="9.6" text-anchor="start" font-weight="bold" fill="#111" stroke="#111" stroke-width="0.29" textLength="79" lengthAdjust="spacingAndGlyphs">Ti/B-TiO<tspan font-size="6.5" dy="2.1">2</tspan><tspan dy="-2.1">-NTs/PbO</tspan><tspan font-size="6.5" dy="2.1">2</tspan><tspan dy="-2.1"></tspan></text>
<text x="101" y="468" font-size="9.6" text-anchor="start" font-weight="bold" fill="#111" stroke="#111" stroke-width="0.29" textLength="98.2" lengthAdjust="spacingAndGlyphs">Ti/B-TiO<tspan font-size="6.5" dy="2.1">2</tspan><tspan dy="-2.1">-NTs/PbO</tspan><tspan font-size="6.5" dy="2.1">2</tspan><tspan dy="-2.1">-SDS</tspan></text>
<text x="59.5" y="446.3" font-size="14" text-anchor="start" font-weight="bold" fill="#111" stroke="#111" stroke-width="0.3">(e)</text>
<text x="109.7" y="634.4" font-size="15" text-anchor="start" font-weight="bold" fill="#111" stroke="#111" stroke-width="0.3">v</text>
<text x="116.3" y="628.6" font-size="11" text-anchor="start" font-weight="bold" fill="#111" stroke="#111" stroke-width="0.3" textLength="22.2" lengthAdjust="spacingAndGlyphs">-1/2</text>
<text x="139.3" y="634.4" font-size="15" text-anchor="start" font-weight="bold" fill="#111" stroke="#111" stroke-width="0.3" textLength="25.8" lengthAdjust="spacingAndGlyphs">(mV</text>
<text x="165.7" y="628.6" font-size="11" text-anchor="start" font-weight="bold" fill="#111" stroke="#111" stroke-width="0.3" textLength="20.8" lengthAdjust="spacingAndGlyphs">-1/2</text>
<text x="187.6" y="634.4" font-size="15" text-anchor="start" font-weight="bold" fill="#111" stroke="#111" stroke-width="0.3">s</text>
<text x="193.7" y="628.6" font-size="11" text-anchor="start" font-weight="bold" fill="#111" stroke="#111" stroke-width="0.3" textLength="18.5" lengthAdjust="spacingAndGlyphs">-1/2</text>
<text x="213.2" y="634.4" font-size="15" text-anchor="start" font-weight="bold" fill="#111" stroke="#111" stroke-width="0.3">)</text>
<g transform="translate(19.3 550.3) rotate(-90)">
<text x="0" y="0" font-size="15" font-weight="bold" fill="#111" stroke="#111" stroke-width="0.3">q</text>
<text x="8.6" y="-4.4" font-size="13" font-weight="bold" fill="#111" stroke="#111" stroke-width="0.3">*</text>
<text x="15.2" y="0" font-size="15" font-weight="bold" fill="#111" stroke="#111" stroke-width="0.3" textLength="38" lengthAdjust="spacingAndGlyphs">(C cm</text>
<text x="53.4" y="-3.8" font-size="14" font-weight="bold" fill="#111" stroke="#111" stroke-width="0.3">-2</text>
<text x="65.2" y="0" font-size="15" font-weight="bold" fill="#111" stroke="#111" stroke-width="0.3">)</text>
</g>
<line x1="310.8" y1="602.5" x2="312.6" y2="602.5" stroke="#2a2a2a" stroke-width="1"/>
<line x1="310.8" y1="587.2" x2="313.8" y2="587.2" stroke="#2a2a2a" stroke-width="1"/>
<line x1="310.8" y1="571.9" x2="312.6" y2="571.9" stroke="#2a2a2a" stroke-width="1"/>
<line x1="310.8" y1="556.6" x2="313.8" y2="556.6" stroke="#2a2a2a" stroke-width="1"/>
<line x1="310.8" y1="541.3" x2="312.6" y2="541.3" stroke="#2a2a2a" stroke-width="1"/>
<line x1="310.8" y1="526" x2="313.8" y2="526" stroke="#2a2a2a" stroke-width="1"/>
<line x1="310.8" y1="510.7" x2="312.6" y2="510.7" stroke="#2a2a2a" stroke-width="1"/>
<line x1="310.8" y1="495.4" x2="313.8" y2="495.4" stroke="#2a2a2a" stroke-width="1"/>
<line x1="310.8" y1="480.1" x2="312.6" y2="480.1" stroke="#2a2a2a" stroke-width="1"/>
<line x1="310.8" y1="464.8" x2="313.8" y2="464.8" stroke="#2a2a2a" stroke-width="1"/>
<line x1="310.8" y1="449.5" x2="312.6" y2="449.5" stroke="#2a2a2a" stroke-width="1"/>
<line x1="310.8" y1="434.2" x2="313.8" y2="434.2" stroke="#2a2a2a" stroke-width="1"/>
<line x1="326.8" y1="605.6" x2="326.8" y2="602.6" stroke="#2a2a2a" stroke-width="1"/>
<line x1="343.36" y1="605.6" x2="343.36" y2="603.8" stroke="#2a2a2a" stroke-width="1"/>
<line x1="359.93" y1="605.6" x2="359.93" y2="602.6" stroke="#2a2a2a" stroke-width="1"/>
<line x1="376.49" y1="605.6" x2="376.49" y2="603.8" stroke="#2a2a2a" stroke-width="1"/>
<line x1="393.05" y1="605.6" x2="393.05" y2="602.6" stroke="#2a2a2a" stroke-width="1"/>
<line x1="409.61" y1="605.6" x2="409.61" y2="603.8" stroke="#2a2a2a" stroke-width="1"/>
<line x1="426.18" y1="605.6" x2="426.18" y2="602.6" stroke="#2a2a2a" stroke-width="1"/>
<line x1="442.74" y1="605.6" x2="442.74" y2="603.8" stroke="#2a2a2a" stroke-width="1"/>
<line x1="459.3" y1="605.6" x2="459.3" y2="602.6" stroke="#2a2a2a" stroke-width="1"/>
<line x1="475.86" y1="605.6" x2="475.86" y2="603.8" stroke="#2a2a2a" stroke-width="1"/>
<line x1="492.43" y1="605.6" x2="492.43" y2="602.6" stroke="#2a2a2a" stroke-width="1"/>
<line x1="508.99" y1="605.6" x2="508.99" y2="603.8" stroke="#2a2a2a" stroke-width="1"/>
<line x1="525.55" y1="605.6" x2="525.55" y2="602.6" stroke="#2a2a2a" stroke-width="1"/>
<text x="305.4" y="591.5" font-size="11.88" text-anchor="end" font-weight="bold" fill="#111" stroke="#111" stroke-width="0.3" textLength="5.5" lengthAdjust="spacingAndGlyphs">0</text>
<text x="305.4" y="560.9" font-size="11.88" text-anchor="end" font-weight="bold" fill="#111" stroke="#111" stroke-width="0.3" textLength="5.5" lengthAdjust="spacingAndGlyphs">5</text>
<text x="305.4" y="530.3" font-size="11.88" text-anchor="end" font-weight="bold" fill="#111" stroke="#111" stroke-width="0.3" textLength="11" lengthAdjust="spacingAndGlyphs">10</text>
<text x="305.4" y="499.7" font-size="11.88" text-anchor="end" font-weight="bold" fill="#111" stroke="#111" stroke-width="0.3" textLength="11" lengthAdjust="spacingAndGlyphs">15</text>
<text x="305.4" y="469.1" font-size="11.88" text-anchor="end" font-weight="bold" fill="#111" stroke="#111" stroke-width="0.3" textLength="11" lengthAdjust="spacingAndGlyphs">20</text>
<text x="305.4" y="438.5" font-size="11.88" text-anchor="end" font-weight="bold" fill="#111" stroke="#111" stroke-width="0.3" textLength="11" lengthAdjust="spacingAndGlyphs">25</text>
<text x="326.8" y="618.5" font-size="11.88" text-anchor="middle" font-weight="bold" fill="#111" stroke="#111" stroke-width="0.3" textLength="5.5" lengthAdjust="spacingAndGlyphs">0</text>
<text x="359.93" y="618.5" font-size="11.88" text-anchor="middle" font-weight="bold" fill="#111" stroke="#111" stroke-width="0.3" textLength="5.5" lengthAdjust="spacingAndGlyphs">5</text>
<text x="393.05" y="618.5" font-size="11.88" text-anchor="middle" font-weight="bold" fill="#111" stroke="#111" stroke-width="0.3" textLength="11" lengthAdjust="spacingAndGlyphs">10</text>
<text x="426.18" y="618.5" font-size="11.88" text-anchor="middle" font-weight="bold" fill="#111" stroke="#111" stroke-width="0.3" textLength="11" lengthAdjust="spacingAndGlyphs">15</text>
<text x="459.3" y="618.5" font-size="11.88" text-anchor="middle" font-weight="bold" fill="#111" stroke="#111" stroke-width="0.3" textLength="11" lengthAdjust="spacingAndGlyphs">20</text>
<text x="492.43" y="618.5" font-size="11.88" text-anchor="middle" font-weight="bold" fill="#111" stroke="#111" stroke-width="0.3" textLength="11" lengthAdjust="spacingAndGlyphs">25</text>
<text x="525.55" y="618.5" font-size="11.88" text-anchor="middle" font-weight="bold" fill="#111" stroke="#111" stroke-width="0.3" textLength="11" lengthAdjust="spacingAndGlyphs">30</text>
<line x1="327" y1="581.4" x2="517.3" y2="431.5" stroke="#ff4fae" stroke-width="1.2"/>
<line x1="325.9" y1="583.5" x2="527.9" y2="497.5" stroke="#b8a800" stroke-width="1.2"/>
<line x1="326.5" y1="587.6" x2="528" y2="530.6" stroke="#4cb82a" stroke-width="1.2"/>
<circle cx="359.93" cy="548.77" r="2.9" fill="#fff" stroke="#ff4fae" stroke-width="0.9"/>
<path d="M357.03,548.77 A2.9,2.9 0 0 1 362.82,548.77 Z" fill="#ff4fae"/>
<circle cx="393.05" cy="527.22" r="2.9" fill="#fff" stroke="#ff4fae" stroke-width="0.9"/>
<path d="M390.15,527.22 A2.9,2.9 0 0 1 395.95,527.22 Z" fill="#ff4fae"/>
<circle cx="426.18" cy="503.36" r="2.9" fill="#fff" stroke="#ff4fae" stroke-width="0.9"/>
<path d="M423.28,503.36 A2.9,2.9 0 0 1 429.07,503.36 Z" fill="#ff4fae"/>
<circle cx="459.3" cy="475.82" r="2.9" fill="#fff" stroke="#ff4fae" stroke-width="0.9"/>
<path d="M456.4,475.82 A2.9,2.9 0 0 1 462.2,475.82 Z" fill="#ff4fae"/>
<circle cx="492.43" cy="446.75" r="2.9" fill="#fff" stroke="#ff4fae" stroke-width="0.9"/>
<path d="M489.53,446.75 A2.9,2.9 0 0 1 495.32,446.75 Z" fill="#ff4fae"/>
<path d="M326.8,583.39 L330.3,586.89 L326.8,590.39 L323.3,586.89 Z" fill="#fff" stroke="#b8a800" stroke-width="0.9"/>
<path d="M326.8,583.39 L330.3,586.89 L326.8,590.39 Z" fill="#b8a800"/>
<path d="M359.93,564.12 L363.43,567.62 L359.93,571.12 L356.43,567.62 Z" fill="#fff" stroke="#b8a800" stroke-width="0.9"/>
<path d="M359.93,564.12 L363.43,567.62 L359.93,571.12 Z" fill="#b8a800"/>
<path d="M393.05,549.12 L396.55,552.62 L393.05,556.12 L389.55,552.62 Z" fill="#fff" stroke="#b8a800" stroke-width="0.9"/>
<path d="M393.05,549.12 L396.55,552.62 L393.05,556.12 Z" fill="#b8a800"/>
<path d="M426.18,534.13 L429.68,537.63 L426.18,541.13 L422.68,537.63 Z" fill="#fff" stroke="#b8a800" stroke-width="0.9"/>
<path d="M426.18,534.13 L429.68,537.63 L426.18,541.13 Z" fill="#b8a800"/>
<path d="M459.3,523.42 L462.8,526.92 L459.3,530.42 L455.8,526.92 Z" fill="#fff" stroke="#b8a800" stroke-width="0.9"/>
<path d="M459.3,523.42 L462.8,526.92 L459.3,530.42 Z" fill="#b8a800"/>
<path d="M492.43,508.42 L495.93,511.92 L492.43,515.42 L488.93,511.92 Z" fill="#fff" stroke="#b8a800" stroke-width="0.9"/>
<path d="M492.43,508.42 L495.93,511.92 L492.43,515.42 Z" fill="#b8a800"/>
<path d="M525.55,494.96 L529.05,498.46 L525.55,501.96 L522.05,498.46 Z" fill="#fff" stroke="#b8a800" stroke-width="0.9"/>
<path d="M525.55,494.96 L529.05,498.46 L525.55,501.96 Z" fill="#b8a800"/>
<circle cx="326.8" cy="588.42" r="2.9" fill="#fff" stroke="#4cb82a" stroke-width="0.9"/>
<path d="M323.9,588.42 A2.9,2.9 0 0 0 329.7,588.42 Z" fill="#4cb82a"/>
<circle cx="359.93" cy="578.75" r="2.9" fill="#fff" stroke="#4cb82a" stroke-width="0.9"/>
<path d="M357.03,578.75 A2.9,2.9 0 0 0 362.82,578.75 Z" fill="#4cb82a"/>
<circle cx="393.05" cy="568.96" r="2.9" fill="#fff" stroke="#4cb82a" stroke-width="0.9"/>
<path d="M390.15,568.96 A2.9,2.9 0 0 0 395.95,568.96 Z" fill="#4cb82a"/>
<circle cx="426.18" cy="560.27" r="2.9" fill="#fff" stroke="#4cb82a" stroke-width="0.9"/>
<path d="M423.28,560.27 A2.9,2.9 0 0 0 429.07,560.27 Z" fill="#4cb82a"/>
<circle cx="459.3" cy="550.91" r="2.9" fill="#fff" stroke="#4cb82a" stroke-width="0.9"/>
<path d="M456.4,550.91 A2.9,2.9 0 0 0 462.2,550.91 Z" fill="#4cb82a"/>
<circle cx="492.43" cy="540.99" r="2.9" fill="#fff" stroke="#4cb82a" stroke-width="0.9"/>
<path d="M489.53,540.99 A2.9,2.9 0 0 0 495.32,540.99 Z" fill="#4cb82a"/>
<circle cx="525.55" cy="531.2" r="2.9" fill="#fff" stroke="#4cb82a" stroke-width="0.9"/>
<path d="M522.65,531.2 A2.9,2.9 0 0 0 528.45,531.2 Z" fill="#4cb82a"/>
<rect x="310.8" y="431.5" width="231.7" height="174.1" fill="none" stroke="#2a2a2a" stroke-width="1.3"/>
<circle cx="354" cy="439.6" r="2.9" fill="#fff" stroke="#ff4fae" stroke-width="0.9"/>
<path d="M351.1,439.6 A2.9,2.9 0 0 1 356.9,439.6 Z" fill="#ff4fae"/>
<path d="M354,450.1 L357.5,453.6 L354,457.1 L350.5,453.6 Z" fill="#fff" stroke="#b8a800" stroke-width="0.9"/>
<path d="M354,450.1 L357.5,453.6 L354,457.1 Z" fill="#b8a800"/>
<circle cx="354" cy="466.4" r="2.9" fill="#fff" stroke="#4cb82a" stroke-width="0.9"/>
<path d="M351.1,466.4 A2.9,2.9 0 0 0 356.9,466.4 Z" fill="#4cb82a"/>
<text x="367.5" y="443.2" font-size="9.5" text-anchor="start" font-weight="bold" fill="#111" stroke="#111" stroke-width="0.28" textLength="107.4" lengthAdjust="spacingAndGlyphs">Ti/B-TiO<tspan font-size="6.5" dy="2.1">2</tspan><tspan dy="-2.1">-NTs/PbO</tspan><tspan font-size="6.5" dy="2.1">2</tspan><tspan dy="-2.1">-SDS</tspan></text>
<text x="367.5" y="457.2" font-size="9.5" text-anchor="start" font-weight="bold" fill="#111" stroke="#111" stroke-width="0.28" textLength="87" lengthAdjust="spacingAndGlyphs">Ti/B-TiO<tspan font-size="6.5" dy="2.1">2</tspan><tspan dy="-2.1">-NTs/PbO</tspan><tspan font-size="6.5" dy="2.1">2</tspan><tspan dy="-2.1"></tspan></text>
<text x="367.5" y="470" font-size="9.5" text-anchor="start" font-weight="bold" fill="#111" stroke="#111" stroke-width="0.28" textLength="76.9" lengthAdjust="spacingAndGlyphs">Ti/TiO<tspan font-size="6.5" dy="2.1">2</tspan><tspan dy="-2.1">-NTs/PbO</tspan><tspan font-size="6.5" dy="2.1">2</tspan><tspan dy="-2.1"></tspan></text>
<text x="314.6" y="447" font-size="15" text-anchor="start" font-weight="bold" fill="#111" stroke="#111" stroke-width="0.3">(f)</text>
<text x="391.2" y="633.8" font-size="15" text-anchor="start" font-weight="bold" fill="#111" stroke="#111" stroke-width="0.3" textLength="70" lengthAdjust="spacingAndGlyphs">Time(min)</text>
<text x="289.6" y="598.3" font-size="13" text-anchor="start" font-weight="bold" fill="#111" stroke="#111" stroke-width="0.3" transform="rotate(-90 289.6 598.3)" textLength="160.8" lengthAdjust="spacingAndGlyphs">Fluorescence intensity/a.u.(×10<tspan font-size="9.5" dy="-5">4</tspan><tspan dy="5">)</tspan></text>
</svg></body></html>
